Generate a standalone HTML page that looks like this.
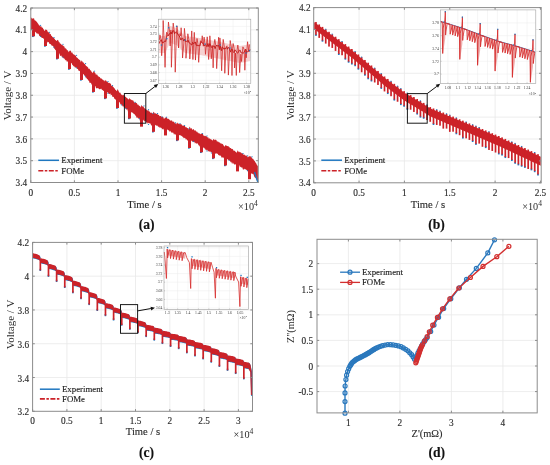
<!DOCTYPE html><html><head><meta charset="utf-8"><style>html,body{margin:0;padding:0;background:#fff;overflow:hidden}svg{display:block;will-change:transform;filter:blur(0.45px)}</style></head><body><svg width="550" height="465" viewBox="0 0 550 465" font-family='"Liberation Serif", serif'>
<rect width="550" height="465" fill="#fff"/>
<line x1="74.4" y1="8" x2="74.4" y2="182.5" stroke="#e9e9e9" stroke-width="0.8"/>
<line x1="118" y1="8" x2="118" y2="182.5" stroke="#e9e9e9" stroke-width="0.8"/>
<line x1="161.6" y1="8" x2="161.6" y2="182.5" stroke="#e9e9e9" stroke-width="0.8"/>
<line x1="205.2" y1="8" x2="205.2" y2="182.5" stroke="#e9e9e9" stroke-width="0.8"/>
<line x1="248.8" y1="8" x2="248.8" y2="182.5" stroke="#e9e9e9" stroke-width="0.8"/>
<line x1="30.8" y1="29.81" x2="258.3" y2="29.81" stroke="#e9e9e9" stroke-width="0.8"/>
<line x1="30.8" y1="51.63" x2="258.3" y2="51.63" stroke="#e9e9e9" stroke-width="0.8"/>
<line x1="30.8" y1="73.44" x2="258.3" y2="73.44" stroke="#e9e9e9" stroke-width="0.8"/>
<line x1="30.8" y1="95.25" x2="258.3" y2="95.25" stroke="#e9e9e9" stroke-width="0.8"/>
<line x1="30.8" y1="117.06" x2="258.3" y2="117.06" stroke="#e9e9e9" stroke-width="0.8"/>
<line x1="30.8" y1="138.88" x2="258.3" y2="138.88" stroke="#e9e9e9" stroke-width="0.8"/>
<line x1="30.8" y1="160.69" x2="258.3" y2="160.69" stroke="#e9e9e9" stroke-width="0.8"/>
<polygon points="30.9,17.03 31.4,18.1 31.9,18.55 32.4,18.3 32.9,19.06 33.4,18.61 33.9,17.86 34.4,19.8 34.9,20.4 35.4,20.51 35.9,20.88 36.4,21.47 36.9,22 37.4,22.83 37.9,23.44 38.4,24.04 38.9,25.27 39.4,25.46 39.9,25.71 40.4,26.81 40.9,26.09 41.4,26.53 41.9,27.77 42.4,27.38 42.9,27.88 43.4,29.17 43.9,29.61 44.4,30.85 44.9,30.91 45.4,29.25 45.9,29.74 46.4,29.86 46.9,30 47.4,30.81 47.9,32.13 48.4,31.86 48.9,32.65 49.4,32.59 49.9,34.43 50.4,33.87 50.9,34.57 51.4,36.07 51.9,35.99 52.4,37.05 52.9,37.24 53.4,37.92 53.9,37.41 54.4,38.69 54.9,39.19 55.4,40.33 55.9,40.08 56.4,41.01 56.9,40.71 57.4,39.8 57.9,40.25 58.4,40.53 58.9,42.16 59.4,42.02 59.9,43.54 60.4,43.42 60.9,43.93 61.4,44.47 61.9,45.02 62.4,44.67 62.9,45.63 63.4,45.79 63.9,46.54 64.4,46.54 64.9,48.43 65.4,47.71 65.9,48.93 66.4,48.83 66.9,50.23 67.4,50.38 67.9,50.02 68.4,51.65 68.9,52.3 69.4,50.73 69.9,50.68 70.4,50.49 70.9,51.06 71.4,52.72 71.9,52.61 72.4,52.5 72.9,54.12 73.4,54.22 73.9,54.6 74.4,54.77 74.9,55.32 75.4,55.53 75.9,55.7 76.4,57.53 76.9,57.37 77.4,58.03 77.9,58.22 78.4,59.45 78.9,58.84 79.4,59.94 79.9,59.94 80.4,60.63 80.9,62.53 81.4,60.58 81.9,60.76 82.4,61.46 82.9,62.57 83.4,62.27 83.9,63.21 84.4,63.91 84.9,63.93 85.4,64.74 85.9,65.68 86.4,66.46 86.9,65.79 87.4,67.59 87.9,66.65 88.4,68.4 88.9,69.04 89.4,68.51 89.9,69.51 90.4,70.69 90.9,69.95 91.4,71.48 91.9,72.29 92.4,72.39 92.9,73.28 93.4,71.03 93.9,71.53 94.4,72.34 94.9,72.59 95.4,73.3 95.9,74.67 96.4,74.48 96.9,74.51 97.4,74.81 97.9,76.31 98.4,75.91 98.9,77.17 99.4,76.84 99.9,77.26 100.4,78.27 100.9,78.43 101.4,78.58 101.9,78.74 102.4,79.87 102.9,79.54 103.4,80.76 103.9,79.82 104.4,80.83 104.9,81.4 105.4,80.53 105.9,79.84 106.4,81.16 106.9,81.38 107.4,81.88 107.9,82.17 108.4,83.15 108.9,82.56 109.4,83.1 109.9,83.22 110.4,83.41 110.9,84.1 111.4,85.66 111.9,85.97 112.4,85.29 112.9,86.66 113.4,87.04 113.9,87.8 114.4,88.48 114.9,88.49 115.4,90.12 115.9,89.9 116.4,90.74 116.9,91.33 117.4,89.18 117.9,89.57 118.4,90.7 118.9,91.84 119.4,92.5 119.9,92.95 120.4,92.54 120.9,94.35 121.4,94.55 121.9,95.05 122.4,94.86 122.9,95.87 123.4,94.85 123.9,95.21 124.4,95.57 124.9,96.32 125.4,96.69 125.9,96.97 126.4,97.95 126.9,97.49 127.4,98.75 127.9,98.44 128.4,99.64 128.9,98.97 129.4,97.81 129.9,99.19 130.4,98.93 130.9,99.74 131.4,99.87 131.9,100.18 132.4,99.88 132.9,100.87 133.4,100.4 133.9,101.99 134.4,102.62 134.9,102.83 135.4,101.92 135.9,102.76 136.4,103.11 136.9,103.16 137.4,104.36 137.9,105.01 138.4,104.61 138.9,105.87 139.4,106.14 139.9,105.45 140.4,106.87 140.9,107.46 141.4,104.78 141.9,105.79 142.4,106.3 142.9,106.66 143.4,106.25 143.9,107.56 144.4,107.93 144.9,108.64 145.4,109.02 145.9,108.67 146.4,109.71 146.9,110.35 147.4,110.8 147.9,110.04 148.4,110.23 148.9,111.58 149.4,111.19 149.9,112.06 150.4,112.98 150.9,112.38 151.4,112.49 151.9,113.13 152.4,113.76 152.9,113.18 153.4,111.94 153.9,111.85 154.4,113.01 154.9,113.59 155.4,113.17 155.9,113.47 156.4,114.05 156.9,113.84 157.4,114.19 157.9,114.6 158.4,115.09 158.9,114.77 159.4,116.12 159.9,116.13 160.4,115.96 160.9,115.89 161.4,117.26 161.9,116.53 162.4,116.82 162.9,117.1 163.4,117.3 163.9,118.9 164.4,118.16 164.9,118.5 165.4,117.62 165.9,117.57 166.4,117.18 166.9,117.87 167.4,118.89 167.9,118.38 168.4,119.21 168.9,118.53 169.4,119.84 169.9,120.22 170.4,120.6 170.9,120.66 171.4,120.47 171.9,120.28 172.4,121.31 172.9,121.99 173.4,121.38 173.9,121.8 174.4,122.53 174.9,123.17 175.4,123.71 175.9,122.78 176.4,123.17 176.9,124.46 177.4,122.51 177.9,122.93 178.4,123.65 178.9,123.84 179.4,123.97 179.9,124.15 180.4,123.82 180.9,124.49 181.4,124.05 181.9,125.25 182.4,125.53 182.9,125.75 183.4,125.59 183.9,125.77 184.4,126.12 184.9,125.78 185.4,127.36 185.9,127.16 186.4,127.19 186.9,127.73 187.4,128.29 187.9,128.03 188.4,129.03 188.9,129.47 189.4,126.93 189.9,126.84 190.4,128.15 190.9,128.83 191.4,127.79 191.9,129 192.4,129.49 192.9,129.96 193.4,128.99 193.9,129.25 194.4,130.99 194.9,129.91 195.4,130.32 195.9,131.26 196.4,131.37 196.9,132.16 197.4,131.61 197.9,133.15 198.4,132.42 198.9,133.69 199.4,132.96 199.9,133.99 200.4,133.67 200.9,134.51 201.4,132.89 201.9,133.93 202.4,133.89 202.9,133.64 203.4,135.52 203.9,135.74 204.4,136.17 204.9,135.48 205.4,136.11 205.9,136.2 206.4,136.32 206.9,136.45 207.4,137.48 207.9,137.15 208.4,137.52 208.9,138.89 209.4,138.57 209.9,138.37 210.4,139.42 210.9,139.06 211.4,139.75 211.9,139.64 212.4,140.29 212.9,140.75 213.4,138.88 213.9,138.94 214.4,139.85 214.9,140.26 215.4,139.43 215.9,139.64 216.4,139.88 216.9,141.55 217.4,141.77 217.9,140.92 218.4,142.45 218.9,141.57 219.4,142.39 219.9,142.72 220.4,143.74 220.9,142.68 221.4,143.46 221.9,144.26 222.4,143.75 222.9,144.37 223.4,145.08 223.9,146.09 224.4,146.24 224.9,146.69 225.4,144.93 225.9,145.19 226.4,145.76 226.9,145.83 227.4,146.27 227.9,145.92 228.4,146.04 228.9,147.33 229.4,146.73 229.9,148.27 230.4,148.09 230.9,147.99 231.4,149.3 231.9,148.38 232.4,149.29 232.9,148.95 233.4,150.68 233.9,150.39 234.4,151.09 234.9,150.58 235.4,151.75 235.9,151.92 236.4,152.16 236.9,152.99 237.4,150.49 237.9,150.8 238.4,151.57 238.9,152.14 239.4,151.62 239.9,152.44 240.4,151.98 240.9,152.82 241.4,153.45 241.9,152.6 242.4,153.95 242.9,153.09 243.4,154.88 243.9,154.38 244.4,154.57 244.9,155.35 245.4,155.32 245.9,155.94 246.4,155.19 246.9,156.23 247.4,156.51 247.9,157.39 248.4,156.25 248.9,157.34 249.4,156.06 249.9,156.36 250.4,156.03 250.9,157.29 251.4,157.13 251.9,157.52 252.4,159.04 252.9,158.38 253.4,159.23 253.9,160.13 254.4,160.79 254.9,161.34 255.4,162.54 255.9,162.79 256.4,163.84 256.9,164.95 257.4,165.53 257.9,166.27 257.9,180.66 257.4,179.76 256.9,180.63 256.4,178.11 255.9,178.35 255.4,177.82 254.9,177.4 254.4,176.89 253.9,175.45 253.4,174.37 252.9,173.62 252.4,174.22 251.9,173.65 251.4,173.47 250.9,173.28 250.4,171.42 249.9,171.48 249.4,171.06 248.9,173.16 248.4,171.23 247.9,170.81 247.4,171.56 246.9,170.24 246.4,169.73 245.9,169.8 245.4,169.11 244.9,169.38 244.4,168.62 243.9,169.39 243.4,169.6 242.9,169.42 242.4,167.68 241.9,166.89 241.4,167.98 240.9,166.66 240.4,166.81 239.9,167.49 239.4,165.38 238.9,165.15 238.4,165.33 237.9,164.71 237.4,164.11 236.9,166.11 236.4,164.73 235.9,164.31 235.4,164.61 234.9,164.27 234.4,164.66 233.9,164.1 233.4,163.59 232.9,162.28 232.4,163.75 231.9,163.48 231.4,162.36 230.9,161.37 230.4,162.43 229.9,160.49 229.4,160.25 228.9,159.82 228.4,161.02 227.9,158.91 227.4,159.83 226.9,158.4 226.4,158.94 225.9,158.64 225.4,157.79 224.9,158.67 224.4,158.98 223.9,158.31 223.4,157.23 222.9,158.11 222.4,157.09 221.9,157.68 221.4,157.23 220.9,155.72 220.4,155.55 219.9,156.11 219.4,155.16 218.9,154.93 218.4,155.37 217.9,154.12 217.4,153.78 216.9,153.42 216.4,153.14 215.9,154.01 215.4,153.47 214.9,152.98 214.4,153.09 213.9,151.43 213.4,151.31 212.9,153.02 212.4,152.65 211.9,152.5 211.4,152.27 210.9,152.57 210.4,151.53 209.9,151.32 209.4,152.11 208.9,150.7 208.4,151.57 207.9,151.29 207.4,150.03 206.9,149.39 206.4,150.56 205.9,150.09 205.4,149.5 204.9,148.36 204.4,148.77 203.9,147.06 203.4,148.34 202.9,147.31 202.4,147.03 201.9,146.29 201.4,145.69 200.9,146.91 200.4,145.51 199.9,146.2 199.4,146.42 198.9,144.26 198.4,145.67 197.9,144.06 197.4,143.19 196.9,142.9 196.4,144.25 195.9,142.44 195.4,143.31 194.9,143.61 194.4,141.67 193.9,142.11 193.4,142.32 192.9,140.94 192.4,142.26 191.9,141.34 191.4,140.75 190.9,139.9 190.4,139.87 189.9,140.58 189.4,139.47 188.9,141.83 188.4,141.5 187.9,140.24 187.4,140.63 186.9,139.63 186.4,139.04 185.9,139.74 185.4,138.59 184.9,137.7 184.4,137.89 183.9,138.2 183.4,137.44 182.9,137.36 182.4,136.39 181.9,136.27 181.4,135.64 180.9,135.8 180.4,135.22 179.9,134.97 179.4,135.35 178.9,135.36 178.4,134.65 177.9,133.77 177.4,134.9 176.9,134.31 176.4,135.57 175.9,134.36 175.4,135.08 174.9,133.42 174.4,134.41 173.9,134.6 173.4,133.07 172.9,132.37 172.4,132.69 171.9,133.03 171.4,132.31 170.9,131.96 170.4,131.05 169.9,130.58 169.4,132 168.9,130.83 168.4,130 167.9,130 167.4,129.15 166.9,130.61 166.4,130.21 165.9,128.58 165.4,128.47 164.9,129.3 164.4,130.68 163.9,130.2 163.4,128.51 162.9,129.15 162.4,129.14 161.9,128.58 161.4,127.97 160.9,127.5 160.4,127.5 159.9,127.89 159.4,127.25 158.9,126.16 158.4,127.25 157.9,126.59 157.4,125.42 156.9,125.82 156.4,125.78 155.9,124.78 155.4,125.26 154.9,125.54 154.4,124.89 153.9,124.99 153.4,124.4 152.9,125.07 152.4,125.49 151.9,125.13 151.4,125.65 150.9,124.65 150.4,123.46 149.9,123.37 149.4,123.62 148.9,122.69 148.4,123 147.9,124.02 147.4,122.71 146.9,122.46 146.4,122.87 145.9,121.5 145.4,120.83 144.9,121.93 144.4,120.87 143.9,120.89 143.4,119.58 142.9,121.03 142.4,120.74 141.9,119.92 141.4,118.59 140.9,121.18 140.4,120.24 139.9,120.75 139.4,118.78 138.9,118.23 138.4,118.64 137.9,118.32 137.4,117.27 136.9,118.12 136.4,117.3 135.9,115.8 135.4,115.85 134.9,114.59 134.4,114.36 133.9,114.1 133.4,113.55 132.9,112.81 132.4,112.82 131.9,112.33 131.4,112.2 130.9,112.57 130.4,111.34 129.9,110.51 129.4,110.96 128.9,110.86 128.4,111.42 127.9,111.47 127.4,109.15 126.9,109.42 126.4,109.59 125.9,109.19 125.4,108.04 124.9,108.32 124.4,107.65 123.9,107.45 123.4,106.07 122.9,106.75 122.4,105.49 121.9,105.38 121.4,104.3 120.9,104.44 120.4,104.21 119.9,102.68 119.4,101.74 118.9,102.7 118.4,101.55 117.9,99.96 117.4,100.37 116.9,100.41 116.4,101.25 115.9,99.32 115.4,99.91 114.9,98.48 114.4,99.26 113.9,97.36 113.4,96.69 112.9,97.08 112.4,96.75 111.9,94.97 111.4,94.77 110.9,95.44 110.4,93.47 109.9,93.86 109.4,94.36 108.9,93.6 108.4,93.63 107.9,91.98 107.4,92.88 106.9,91.51 106.4,90.81 105.9,90.17 105.4,89.66 104.9,90.54 104.4,90.65 103.9,91.08 103.4,90.94 102.9,89.87 102.4,90.21 101.9,90.06 101.4,88.44 100.9,89.22 100.4,88.66 99.9,88.99 99.4,89.47 98.9,88.5 98.4,88.5 97.9,88.27 97.4,87.95 96.9,88.5 96.4,88.14 95.9,87.76 95.4,85.95 94.9,86.24 94.4,85.25 93.9,86.22 93.4,85.77 92.9,85.11 92.4,85.65 91.9,84.72 91.4,84.27 90.9,82.46 90.4,83.12 89.9,82.99 89.4,82.47 88.9,80.36 88.4,81.09 87.9,79.71 87.4,79.11 86.9,78.95 86.4,77.5 85.9,78.14 85.4,76.51 84.9,75.72 84.4,75.73 83.9,74.26 83.4,74.6 82.9,73.4 82.4,72.86 81.9,71.96 81.4,73.25 80.9,72.72 80.4,71.92 79.9,71.26 79.4,70.68 78.9,71.11 78.4,70.13 77.9,68.95 77.4,69.06 76.9,68.41 76.4,67.61 75.9,67.35 75.4,67.72 74.9,67.32 74.4,66.59 73.9,66.22 73.4,66.32 72.9,65.01 72.4,65.13 71.9,63.8 71.4,62.99 70.9,62.67 70.4,63.26 69.9,62.95 69.4,61.81 68.9,62.07 68.4,62.01 67.9,61.67 67.4,61.2 66.9,62.1 66.4,60.15 65.9,60.57 65.4,59.92 64.9,59.38 64.4,58.51 63.9,58.83 63.4,57.87 62.9,57.96 62.4,56.73 61.9,57.17 61.4,55.49 60.9,55.82 60.4,56.12 59.9,55.46 59.4,53.36 58.9,54.04 58.4,53.17 57.9,51.65 57.4,50.67 56.9,52.02 56.4,50.93 55.9,50.36 55.4,50.23 54.9,48.9 54.4,48.86 53.9,48.12 53.4,46.78 52.9,45.87 52.4,46 51.9,45.17 51.4,45.81 50.9,43.76 50.4,44.52 49.9,43.67 49.4,43.99 48.9,42.29 48.4,42.04 47.9,42.6 47.4,42.25 46.9,41.06 46.4,40.17 45.9,39.86 45.4,39.2 44.9,41.43 44.4,39.83 43.9,39.09 43.4,38.62 42.9,37.94 42.4,37.95 41.9,37.81 41.4,37.53 40.9,37.04 40.4,36.36 39.9,35.94 39.4,36.03 38.9,34.63 38.4,33.45 37.9,34.34 37.4,33.35 36.9,33.56 36.4,33.23 35.9,31.9 35.4,32.38 34.9,30.99 34.4,30.92 33.9,31.01 33.4,30.02 32.9,30.84 32.4,31.16 31.9,30.05 31.4,29.97 30.9,29.26" fill="#cc2228" />
<rect x="39.9" y="24.91" width="1.2" height="0.9" fill="#1f77c0"/>
<rect x="39.9" y="35.94" width="1.2" height="0.9" fill="#1f77c0"/>
<rect x="48.9" y="31.85" width="1.2" height="0.9" fill="#1f77c0"/>
<rect x="53.4" y="37.12" width="1.2" height="0.9" fill="#1f77c0"/>
<rect x="53.4" y="46.78" width="1.2" height="0.9" fill="#1f77c0"/>
<rect x="57.9" y="51.65" width="1.2" height="0.9" fill="#1f77c0"/>
<rect x="62.4" y="43.87" width="1.2" height="0.9" fill="#1f77c0"/>
<rect x="62.4" y="56.73" width="1.2" height="0.9" fill="#1f77c0"/>
<rect x="75.9" y="54.9" width="1.2" height="0.9" fill="#1f77c0"/>
<rect x="75.9" y="67.35" width="1.2" height="0.9" fill="#1f77c0"/>
<rect x="84.9" y="63.13" width="1.2" height="0.9" fill="#1f77c0"/>
<rect x="84.9" y="75.72" width="1.2" height="0.9" fill="#1f77c0"/>
<rect x="93.9" y="70.73" width="1.2" height="0.9" fill="#1f77c0"/>
<rect x="107.4" y="81.08" width="1.2" height="0.9" fill="#1f77c0"/>
<rect x="107.4" y="92.88" width="1.2" height="0.9" fill="#1f77c0"/>
<rect x="111.9" y="85.17" width="1.2" height="0.9" fill="#1f77c0"/>
<rect x="120.9" y="104.44" width="1.2" height="0.9" fill="#1f77c0"/>
<rect x="125.4" y="108.04" width="1.2" height="0.9" fill="#1f77c0"/>
<rect x="129.9" y="110.51" width="1.2" height="0.9" fill="#1f77c0"/>
<rect x="134.4" y="101.82" width="1.2" height="0.9" fill="#1f77c0"/>
<rect x="138.9" y="118.23" width="1.2" height="0.9" fill="#1f77c0"/>
<rect x="143.4" y="105.45" width="1.2" height="0.9" fill="#1f77c0"/>
<rect x="147.9" y="109.24" width="1.2" height="0.9" fill="#1f77c0"/>
<rect x="147.9" y="124.02" width="1.2" height="0.9" fill="#1f77c0"/>
<rect x="152.4" y="112.96" width="1.2" height="0.9" fill="#1f77c0"/>
<rect x="156.9" y="113.04" width="1.2" height="0.9" fill="#1f77c0"/>
<rect x="161.4" y="116.46" width="1.2" height="0.9" fill="#1f77c0"/>
<rect x="165.9" y="116.77" width="1.2" height="0.9" fill="#1f77c0"/>
<rect x="174.9" y="122.37" width="1.2" height="0.9" fill="#1f77c0"/>
<rect x="179.4" y="123.17" width="1.2" height="0.9" fill="#1f77c0"/>
<rect x="183.9" y="124.97" width="1.2" height="0.9" fill="#1f77c0"/>
<rect x="188.4" y="128.23" width="1.2" height="0.9" fill="#1f77c0"/>
<rect x="192.9" y="140.94" width="1.2" height="0.9" fill="#1f77c0"/>
<rect x="201.9" y="133.13" width="1.2" height="0.9" fill="#1f77c0"/>
<rect x="201.9" y="146.29" width="1.2" height="0.9" fill="#1f77c0"/>
<rect x="206.4" y="135.52" width="1.2" height="0.9" fill="#1f77c0"/>
<rect x="206.4" y="150.56" width="1.2" height="0.9" fill="#1f77c0"/>
<rect x="210.9" y="152.57" width="1.2" height="0.9" fill="#1f77c0"/>
<rect x="224.4" y="158.98" width="1.2" height="0.9" fill="#1f77c0"/>
<rect x="228.9" y="159.82" width="1.2" height="0.9" fill="#1f77c0"/>
<rect x="242.4" y="153.15" width="1.2" height="0.9" fill="#1f77c0"/>
<rect x="246.9" y="155.43" width="1.2" height="0.9" fill="#1f77c0"/>
<rect x="246.9" y="170.24" width="1.2" height="0.9" fill="#1f77c0"/>
<rect x="251.4" y="156.33" width="1.2" height="0.9" fill="#1f77c0"/>
<rect x="255.9" y="178.35" width="1.2" height="0.9" fill="#1f77c0"/>
<rect x="32" y="34.35" width="1.8" height="2.7" fill="#1f77c0"/>
<rect x="32" y="22.07" width="3.0" height="14.28" fill="#cc2228"/>
<rect x="44" y="44.01" width="1.8" height="2.7" fill="#1f77c0"/>
<rect x="44" y="33.26" width="3.0" height="12.75" fill="#cc2228"/>
<rect x="56" y="56.74" width="1.8" height="2.7" fill="#1f77c0"/>
<rect x="56" y="44.02" width="3.0" height="14.72" fill="#cc2228"/>
<rect x="68" y="67.07" width="1.8" height="2.7" fill="#1f77c0"/>
<rect x="68" y="54.11" width="3.0" height="14.96" fill="#cc2228"/>
<rect x="80" y="77.93" width="1.8" height="2.7" fill="#1f77c0"/>
<rect x="80" y="64.38" width="3.0" height="15.55" fill="#cc2228"/>
<rect x="92" y="89.93" width="1.8" height="2.7" fill="#1f77c0"/>
<rect x="92" y="75.51" width="3.0" height="16.42" fill="#cc2228"/>
<rect x="104" y="96.43" width="1.8" height="2.7" fill="#1f77c0"/>
<rect x="104" y="83.83" width="3.0" height="14.61" fill="#cc2228"/>
<rect x="116" y="106.04" width="1.8" height="2.7" fill="#1f77c0"/>
<rect x="116" y="93.74" width="3.0" height="14.3" fill="#cc2228"/>
<rect x="128" y="116.53" width="1.8" height="2.7" fill="#1f77c0"/>
<rect x="128" y="102.12" width="3.0" height="16.41" fill="#cc2228"/>
<rect x="140" y="109.28" width="3.0" height="17.4" fill="#cc2228"/>
<rect x="152" y="129.8" width="1.8" height="2.7" fill="#1f77c0"/>
<rect x="152" y="116.12" width="3.0" height="15.68" fill="#cc2228"/>
<rect x="164" y="121.08" width="3.0" height="14.37" fill="#cc2228"/>
<rect x="176" y="138.43" width="1.8" height="2.7" fill="#1f77c0"/>
<rect x="176" y="126.27" width="3.0" height="14.16" fill="#cc2228"/>
<rect x="188" y="145.97" width="1.8" height="2.7" fill="#1f77c0"/>
<rect x="188" y="131.11" width="3.0" height="16.87" fill="#cc2228"/>
<rect x="200" y="150.32" width="1.8" height="2.7" fill="#1f77c0"/>
<rect x="200" y="137.2" width="3.0" height="15.12" fill="#cc2228"/>
<rect x="212" y="156.41" width="1.8" height="2.7" fill="#1f77c0"/>
<rect x="212" y="142.82" width="3.0" height="15.59" fill="#cc2228"/>
<rect x="224" y="163.5" width="1.8" height="2.7" fill="#1f77c0"/>
<rect x="224" y="148.51" width="3.0" height="16.98" fill="#cc2228"/>
<rect x="236" y="154.6" width="3.0" height="16.8" fill="#cc2228"/>
<rect x="248" y="159.87" width="3.0" height="19.37" fill="#cc2228"/>
<polyline points="254.5,172 257.8,182" fill="none" stroke="#1f77c0" stroke-width="1.4" stroke-linejoin="round" />
<rect x="30.8" y="8" width="227.5" height="174.5" fill="none" stroke="#8c8c8c" stroke-width="1.0"/>
<line x1="30.8" y1="182.5" x2="30.8" y2="180.3" stroke="#8c8c8c" stroke-width="1.0"/>
<line x1="30.8" y1="8" x2="30.8" y2="10.2" stroke="#8c8c8c" stroke-width="1.0"/>
<text x="30.8" y="196.2" font-size="9.3" text-anchor="middle" fill="#2b2b2b" stroke="#2b2b2b" stroke-width="0.14" >0</text>
<line x1="74.4" y1="182.5" x2="74.4" y2="180.3" stroke="#8c8c8c" stroke-width="1.0"/>
<line x1="74.4" y1="8" x2="74.4" y2="10.2" stroke="#8c8c8c" stroke-width="1.0"/>
<text x="74.4" y="196.2" font-size="9.3" text-anchor="middle" fill="#2b2b2b" stroke="#2b2b2b" stroke-width="0.14" >0.5</text>
<line x1="118" y1="182.5" x2="118" y2="180.3" stroke="#8c8c8c" stroke-width="1.0"/>
<line x1="118" y1="8" x2="118" y2="10.2" stroke="#8c8c8c" stroke-width="1.0"/>
<text x="118" y="196.2" font-size="9.3" text-anchor="middle" fill="#2b2b2b" stroke="#2b2b2b" stroke-width="0.14" >1</text>
<line x1="161.6" y1="182.5" x2="161.6" y2="180.3" stroke="#8c8c8c" stroke-width="1.0"/>
<line x1="161.6" y1="8" x2="161.6" y2="10.2" stroke="#8c8c8c" stroke-width="1.0"/>
<text x="161.6" y="196.2" font-size="9.3" text-anchor="middle" fill="#2b2b2b" stroke="#2b2b2b" stroke-width="0.14" >1.5</text>
<line x1="205.2" y1="182.5" x2="205.2" y2="180.3" stroke="#8c8c8c" stroke-width="1.0"/>
<line x1="205.2" y1="8" x2="205.2" y2="10.2" stroke="#8c8c8c" stroke-width="1.0"/>
<text x="205.2" y="196.2" font-size="9.3" text-anchor="middle" fill="#2b2b2b" stroke="#2b2b2b" stroke-width="0.14" >2</text>
<line x1="248.8" y1="182.5" x2="248.8" y2="180.3" stroke="#8c8c8c" stroke-width="1.0"/>
<line x1="248.8" y1="8" x2="248.8" y2="10.2" stroke="#8c8c8c" stroke-width="1.0"/>
<text x="248.8" y="196.2" font-size="9.3" text-anchor="middle" fill="#2b2b2b" stroke="#2b2b2b" stroke-width="0.14" >2.5</text>
<line x1="30.8" y1="8" x2="33" y2="8" stroke="#8c8c8c" stroke-width="1.0"/>
<line x1="258.3" y1="8" x2="256.1" y2="8" stroke="#8c8c8c" stroke-width="1.0"/>
<text x="27.2" y="11.67" font-size="9.3" text-anchor="end" fill="#2b2b2b" stroke="#2b2b2b" stroke-width="0.14" >4.2</text>
<line x1="30.8" y1="29.81" x2="33" y2="29.81" stroke="#8c8c8c" stroke-width="1.0"/>
<line x1="258.3" y1="29.81" x2="256.1" y2="29.81" stroke="#8c8c8c" stroke-width="1.0"/>
<text x="27.2" y="33.48" font-size="9.3" text-anchor="end" fill="#2b2b2b" stroke="#2b2b2b" stroke-width="0.14" >4.1</text>
<line x1="30.8" y1="51.63" x2="33" y2="51.63" stroke="#8c8c8c" stroke-width="1.0"/>
<line x1="258.3" y1="51.63" x2="256.1" y2="51.63" stroke="#8c8c8c" stroke-width="1.0"/>
<text x="27.2" y="55.29" font-size="9.3" text-anchor="end" fill="#2b2b2b" stroke="#2b2b2b" stroke-width="0.14" >4</text>
<line x1="30.8" y1="73.44" x2="33" y2="73.44" stroke="#8c8c8c" stroke-width="1.0"/>
<line x1="258.3" y1="73.44" x2="256.1" y2="73.44" stroke="#8c8c8c" stroke-width="1.0"/>
<text x="27.2" y="77.11" font-size="9.3" text-anchor="end" fill="#2b2b2b" stroke="#2b2b2b" stroke-width="0.14" >3.9</text>
<line x1="30.8" y1="95.25" x2="33" y2="95.25" stroke="#8c8c8c" stroke-width="1.0"/>
<line x1="258.3" y1="95.25" x2="256.1" y2="95.25" stroke="#8c8c8c" stroke-width="1.0"/>
<text x="27.2" y="98.92" font-size="9.3" text-anchor="end" fill="#2b2b2b" stroke="#2b2b2b" stroke-width="0.14" >3.8</text>
<line x1="30.8" y1="117.06" x2="33" y2="117.06" stroke="#8c8c8c" stroke-width="1.0"/>
<line x1="258.3" y1="117.06" x2="256.1" y2="117.06" stroke="#8c8c8c" stroke-width="1.0"/>
<text x="27.2" y="120.73" font-size="9.3" text-anchor="end" fill="#2b2b2b" stroke="#2b2b2b" stroke-width="0.14" >3.7</text>
<line x1="30.8" y1="138.88" x2="33" y2="138.88" stroke="#8c8c8c" stroke-width="1.0"/>
<line x1="258.3" y1="138.88" x2="256.1" y2="138.88" stroke="#8c8c8c" stroke-width="1.0"/>
<text x="27.2" y="142.54" font-size="9.3" text-anchor="end" fill="#2b2b2b" stroke="#2b2b2b" stroke-width="0.14" >3.6</text>
<line x1="30.8" y1="160.69" x2="33" y2="160.69" stroke="#8c8c8c" stroke-width="1.0"/>
<line x1="258.3" y1="160.69" x2="256.1" y2="160.69" stroke="#8c8c8c" stroke-width="1.0"/>
<text x="27.2" y="164.36" font-size="9.3" text-anchor="end" fill="#2b2b2b" stroke="#2b2b2b" stroke-width="0.14" >3.5</text>
<line x1="30.8" y1="182.5" x2="33" y2="182.5" stroke="#8c8c8c" stroke-width="1.0"/>
<line x1="258.3" y1="182.5" x2="256.1" y2="182.5" stroke="#8c8c8c" stroke-width="1.0"/>
<text x="27.2" y="186.17" font-size="9.3" text-anchor="end" fill="#2b2b2b" stroke="#2b2b2b" stroke-width="0.14" >3.4</text>
<line x1="38.3" y1="160.3" x2="59" y2="160.3" stroke="#1f77c0" stroke-width="1.5"/>
<line x1="38.3" y1="170.8" x2="59" y2="170.8" stroke="#cc2228" stroke-width="1.6" stroke-dasharray="5 1.5 2.5 1.5"/>
<text x="61.3" y="163.2" font-size="8.8" text-anchor="start" fill="#222" stroke="#222" stroke-width="0.14" >Experiment</text>
<text x="61.3" y="173.7" font-size="8.8" text-anchor="start" fill="#222" stroke="#222" stroke-width="0.14" >FOMe</text>
<text x="257.8" y="210.4" font-size="10.2" text-anchor="end" fill="#2b2b2b">×10<tspan font-size="7.55" dy="-4.59">4</tspan></text>
<text x="144.5" y="207.6" font-size="10.6" text-anchor="middle" fill="#2b2b2b" stroke="#2b2b2b" stroke-width="0.14" >Time / s</text>
<text transform="translate(10.7,95.5) rotate(-90)" x="0" y="0" font-size="11.0" text-anchor="middle" fill="#2b2b2b">Voltage / V</text>
<text x="146.6" y="229.3" font-size="13.6" text-anchor="middle" fill="#111" stroke="#111" stroke-width="0.14" font-weight="bold">(a)</text>
<line x1="359.05" y1="7.6" x2="359.05" y2="182.8" stroke="#e9e9e9" stroke-width="0.8"/>
<line x1="404.4" y1="7.6" x2="404.4" y2="182.8" stroke="#e9e9e9" stroke-width="0.8"/>
<line x1="449.75" y1="7.6" x2="449.75" y2="182.8" stroke="#e9e9e9" stroke-width="0.8"/>
<line x1="495.1" y1="7.6" x2="495.1" y2="182.8" stroke="#e9e9e9" stroke-width="0.8"/>
<line x1="313.7" y1="29.5" x2="541.2" y2="29.5" stroke="#e9e9e9" stroke-width="0.8"/>
<line x1="313.7" y1="51.4" x2="541.2" y2="51.4" stroke="#e9e9e9" stroke-width="0.8"/>
<line x1="313.7" y1="73.3" x2="541.2" y2="73.3" stroke="#e9e9e9" stroke-width="0.8"/>
<line x1="313.7" y1="95.2" x2="541.2" y2="95.2" stroke="#e9e9e9" stroke-width="0.8"/>
<line x1="313.7" y1="117.1" x2="541.2" y2="117.1" stroke="#e9e9e9" stroke-width="0.8"/>
<line x1="313.7" y1="139" x2="541.2" y2="139" stroke="#e9e9e9" stroke-width="0.8"/>
<line x1="313.7" y1="160.9" x2="541.2" y2="160.9" stroke="#e9e9e9" stroke-width="0.8"/>
<polygon points="314.2,22 314.7,22.38 315.2,22.75 315.7,23.13 316.2,23.5 316.7,23.88 317.2,24.26 317.7,24.63 318.2,25.01 318.7,25.38 319.2,25.76 319.7,26.14 320.2,26.51 320.7,26.89 321.2,27.26 321.7,27.64 322.2,28.02 322.7,28.39 323.2,28.77 323.7,29.14 324.2,29.52 324.7,29.9 325.2,30.27 325.7,30.65 326.2,31.02 326.7,31.4 327.2,31.78 327.7,32.15 328.2,32.53 328.7,32.9 329.2,33.28 329.7,33.66 330.2,34.03 330.7,34.41 331.2,34.78 331.7,35.16 332.2,35.54 332.7,35.91 333.2,36.29 333.7,36.66 334.2,37.04 334.7,37.42 335.2,37.79 335.7,38.17 336.2,38.54 336.7,38.92 337.2,39.3 337.7,39.67 338.2,40.05 338.7,40.42 339.2,40.8 339.7,41.18 340.2,41.55 340.7,41.93 341.2,42.3 341.7,42.68 342.2,43.06 342.7,43.43 343.2,43.81 343.7,44.18 344.2,44.56 344.7,44.94 345.2,45.31 345.7,45.69 346.2,46.06 346.7,46.44 347.2,46.82 347.7,47.19 348.2,47.57 348.7,47.94 349.2,48.32 349.7,48.7 350.2,49.07 350.7,49.45 351.2,49.82 351.7,50.2 352.2,50.58 352.7,51.01 353.2,51.43 353.7,51.85 354.2,52.27 354.7,52.69 355.2,53.11 355.7,53.53 356.2,53.95 356.7,54.37 357.2,54.79 357.7,55.21 358.2,55.64 358.7,56.06 359.2,56.48 359.7,56.9 360.2,57.32 360.7,57.74 361.2,58.16 361.7,58.58 362.2,59 362.7,59.42 363.2,59.85 363.7,60.27 364.2,60.69 364.7,61.11 365.2,61.53 365.7,61.95 366.2,62.37 366.7,62.79 367.2,63.21 367.7,63.63 368.2,64.06 368.7,64.48 369.2,64.9 369.7,65.32 370.2,65.74 370.7,66.16 371.2,66.58 371.7,67 372.2,67.42 372.7,67.84 373.2,68.27 373.7,68.69 374.2,69.11 374.7,69.53 375.2,69.95 375.7,70.37 376.2,70.79 376.7,71.21 377.2,71.63 377.7,72.05 378.2,72.47 378.7,72.9 379.2,73.32 379.7,73.74 380.2,74.16 380.7,74.58 381.2,75 381.7,75.42 382.2,75.84 382.7,76.26 383.2,76.68 383.7,77.11 384.2,77.53 384.7,77.95 385.2,78.35 385.7,78.72 386.2,79.1 386.7,79.47 387.2,79.84 387.7,80.22 388.2,80.59 388.7,80.97 389.2,81.34 389.7,81.71 390.2,82.09 390.7,82.46 391.2,82.83 391.7,83.21 392.2,83.58 392.7,83.96 393.2,84.33 393.7,84.7 394.2,85.08 394.7,85.45 395.2,85.82 395.7,86.2 396.2,86.57 396.7,86.94 397.2,87.32 397.7,87.69 398.2,88.07 398.7,88.44 399.2,88.81 399.7,89.19 400.2,89.56 400.7,89.93 401.2,90.31 401.7,90.68 402.2,91.06 402.7,91.43 403.2,91.8 403.7,92.18 404.2,92.55 404.7,92.88 405.2,93.18 405.7,93.47 406.2,93.77 406.7,94.07 407.2,94.37 407.7,94.67 408.2,94.96 408.7,95.26 409.2,95.56 409.7,95.86 410.2,96.16 410.7,96.45 411.2,96.75 411.7,97.05 412.2,97.35 412.7,97.65 413.2,97.94 413.7,98.24 414.2,98.54 414.7,98.84 415.2,99.14 415.7,99.43 416.2,99.73 416.7,100.03 417.2,100.33 417.7,100.63 418.2,100.92 418.7,101.22 419.2,101.52 419.7,101.82 420.2,102.12 420.7,102.41 421.2,102.71 421.7,103.01 422.2,103.31 422.7,103.61 423.2,103.9 423.7,104.2 424.2,104.5 424.7,104.83 425.2,105.15 425.7,105.47 426.2,105.8 426.7,106.12 427.2,106.45 427.7,106.78 428.2,107.1 428.7,107.43 429.2,107.75 429.7,108.08 430.2,108.4 430.7,108.61 431.2,108.82 431.7,109.02 432.2,109.23 432.7,109.44 433.2,109.65 433.7,109.86 434.2,110.06 434.7,110.27 435.2,110.48 435.7,110.69 436.2,110.9 436.7,111.1 437.2,111.31 437.7,111.52 438.2,111.73 438.7,111.94 439.2,112.14 439.7,112.35 440.2,112.56 440.7,112.77 441.2,112.98 441.7,113.18 442.2,113.39 442.7,113.6 443.2,113.81 443.7,114.02 444.2,114.22 444.7,114.43 445.2,114.64 445.7,114.85 446.2,115.06 446.7,115.26 447.2,115.47 447.7,115.68 448.2,115.89 448.7,116.1 449.2,116.3 449.7,116.51 450.2,116.72 450.7,116.93 451.2,117.14 451.7,117.34 452.2,117.55 452.7,117.76 453.2,117.97 453.7,118.18 454.2,118.38 454.7,118.59 455.2,118.8 455.7,119.01 456.2,119.22 456.7,119.42 457.2,119.63 457.7,119.84 458.2,120.05 458.7,120.26 459.2,120.46 459.7,120.67 460.2,120.88 460.7,121.09 461.2,121.3 461.7,121.5 462.2,121.71 462.7,121.92 463.2,122.13 463.7,122.34 464.2,122.54 464.7,122.75 465.2,122.96 465.7,123.17 466.2,123.38 466.7,123.58 467.2,123.79 467.7,124 468.2,124.21 468.7,124.42 469.2,124.63 469.7,124.84 470.2,125.06 470.7,125.27 471.2,125.48 471.7,125.7 472.2,125.91 472.7,126.13 473.2,126.34 473.7,126.56 474.2,126.77 474.7,126.98 475.2,127.2 475.7,127.41 476.2,127.63 476.7,127.84 477.2,128.05 477.7,128.27 478.2,128.48 478.7,128.7 479.2,128.91 479.7,129.12 480.2,129.34 480.7,129.55 481.2,129.77 481.7,129.98 482.2,130.19 482.7,130.41 483.2,130.62 483.7,130.84 484.2,131.05 484.7,131.26 485.2,131.48 485.7,131.69 486.2,131.91 486.7,132.12 487.2,132.33 487.7,132.55 488.2,132.76 488.7,132.98 489.2,133.19 489.7,133.41 490.2,133.62 490.7,133.83 491.2,134.05 491.7,134.26 492.2,134.48 492.7,134.69 493.2,134.9 493.7,135.12 494.2,135.33 494.7,135.55 495.2,135.76 495.7,135.97 496.2,136.19 496.7,136.4 497.2,136.62 497.7,136.83 498.2,137.04 498.7,137.26 499.2,137.47 499.7,137.69 500.2,137.9 500.7,138.11 501.2,138.33 501.7,138.55 502.2,138.78 502.7,139.01 503.2,139.25 503.7,139.48 504.2,139.71 504.7,139.95 505.2,140.18 505.7,140.41 506.2,140.65 506.7,140.88 507.2,141.11 507.7,141.35 508.2,141.58 508.7,141.81 509.2,142.05 509.7,142.28 510.2,142.51 510.7,142.74 511.2,142.98 511.7,143.21 512.2,143.44 512.7,143.68 513.2,143.91 513.7,144.14 514.2,144.38 514.7,144.61 515.2,144.84 515.7,145.08 516.2,145.31 516.7,145.54 517.2,145.78 517.7,146.01 518.2,146.24 518.7,146.48 519.2,146.71 519.7,146.94 520.2,147.18 520.7,147.41 521.2,147.64 521.7,147.88 522.2,148.11 522.7,148.34 523.2,148.58 523.7,148.81 524.2,149.04 524.7,149.28 525.2,149.51 525.7,149.74 526.2,149.98 526.7,150.21 527.2,150.44 527.7,150.68 528.2,150.91 528.7,151.14 529.2,151.37 529.7,151.61 530.2,151.84 530.7,152.07 531.2,152.31 531.7,152.54 532.2,152.77 532.7,153.01 533.2,153.24 533.7,153.47 534.2,153.71 534.7,153.94 535.2,154.17 535.7,154.41 536.2,154.64 536.7,154.87 537.2,155.11 537.7,155.35 538.2,155.6 538.7,155.85 539.2,156.1 539.7,156.35 540.2,156.6 540.7,156.85 540.7,165.85 540.2,165.59 539.7,165.34 539.2,165.09 538.7,164.83 538.2,164.58 537.7,164.33 537.2,164.08 536.7,163.84 536.2,163.61 535.7,163.37 535.2,163.13 534.7,162.9 534.2,162.66 533.7,162.42 533.2,162.19 532.7,161.95 532.2,161.71 531.7,161.48 531.2,161.24 530.7,161 530.2,160.77 529.7,160.53 529.2,160.29 528.7,160.06 528.2,159.82 527.7,159.58 527.2,159.34 526.7,159.11 526.2,158.87 525.7,158.63 525.2,158.4 524.7,158.16 524.2,157.92 523.7,157.69 523.2,157.45 522.7,157.21 522.2,156.98 521.7,156.74 521.2,156.5 520.7,156.27 520.2,156.03 519.7,155.79 519.2,155.56 518.7,155.32 518.2,155.08 517.7,154.85 517.2,154.61 516.7,154.37 516.2,154.14 515.7,153.9 515.2,153.66 514.7,153.43 514.2,153.19 513.7,152.95 513.2,152.72 512.7,152.48 512.2,152.24 511.7,152.01 511.2,151.77 510.7,151.53 510.2,151.29 509.7,151.06 509.2,150.82 508.7,150.58 508.2,150.35 507.7,150.11 507.2,149.87 506.7,149.64 506.2,149.4 505.7,149.16 505.2,148.93 504.7,148.69 504.2,148.45 503.7,148.22 503.2,147.98 502.7,147.74 502.2,147.51 501.7,147.27 501.2,147.05 500.7,146.83 500.2,146.61 499.7,146.4 499.2,146.18 498.7,145.96 498.2,145.74 497.7,145.53 497.2,145.31 496.7,145.09 496.2,144.87 495.7,144.65 495.2,144.44 494.7,144.22 494.2,144 493.7,143.78 493.2,143.57 492.7,143.35 492.2,143.13 491.7,142.91 491.2,142.7 490.7,142.48 490.2,142.26 489.7,142.04 489.2,141.83 488.7,141.61 488.2,141.39 487.7,141.17 487.2,140.96 486.7,140.74 486.2,140.52 485.7,140.3 485.2,140.09 484.7,139.87 484.2,139.65 483.7,139.43 483.2,139.22 482.7,139 482.2,138.78 481.7,138.56 481.2,138.34 480.7,138.13 480.2,137.91 479.7,137.69 479.2,137.47 478.7,137.26 478.2,137.04 477.7,136.82 477.2,136.6 476.7,136.39 476.2,136.17 475.7,135.95 475.2,135.73 474.7,135.52 474.2,135.3 473.7,135.08 473.2,134.86 472.7,134.65 472.2,134.43 471.7,134.21 471.2,133.99 470.7,133.78 470.2,133.56 469.7,133.34 469.2,133.12 468.7,132.9 468.2,132.69 467.7,132.47 467.2,132.26 466.7,132.04 466.2,131.83 465.7,131.61 465.2,131.4 464.7,131.19 464.2,130.97 463.7,130.76 463.2,130.54 462.7,130.33 462.2,130.12 461.7,129.9 461.2,129.69 460.7,129.47 460.2,129.26 459.7,129.04 459.2,128.83 458.7,128.62 458.2,128.4 457.7,128.19 457.2,127.97 456.7,127.76 456.2,127.54 455.7,127.33 455.2,127.12 454.7,126.9 454.2,126.69 453.7,126.47 453.2,126.26 452.7,126.04 452.2,125.83 451.7,125.62 451.2,125.4 450.7,125.19 450.2,124.97 449.7,124.76 449.2,124.54 448.7,124.33 448.2,124.12 447.7,123.9 447.2,123.69 446.7,123.47 446.2,123.26 445.7,123.04 445.2,122.83 444.7,122.62 444.2,122.4 443.7,122.19 443.2,121.97 442.7,121.76 442.2,121.54 441.7,121.33 441.2,121.12 440.7,120.9 440.2,120.69 439.7,120.47 439.2,120.26 438.7,120.04 438.2,119.83 437.7,119.62 437.2,119.4 436.7,119.19 436.2,118.97 435.7,118.76 435.2,118.55 434.7,118.33 434.2,118.12 433.7,117.9 433.2,117.69 432.7,117.47 432.2,117.26 431.7,117.05 431.2,116.83 430.7,116.62 430.2,116.4 429.7,116.07 429.2,115.75 428.7,115.42 428.2,115.09 427.7,114.76 427.2,114.44 426.7,114.11 426.2,113.78 425.7,113.46 425.2,113.13 424.7,112.8 424.2,112.47 423.7,112.17 423.2,111.87 422.7,111.57 422.2,111.27 421.7,110.97 421.2,110.67 420.7,110.37 420.2,110.07 419.7,109.77 419.2,109.47 418.7,109.17 418.2,108.87 417.7,108.57 417.2,108.27 416.7,107.97 416.2,107.67 415.7,107.37 415.2,107.07 414.7,106.77 414.2,106.47 413.7,106.17 413.2,105.87 412.7,105.57 412.2,105.27 411.7,104.97 411.2,104.67 410.7,104.37 410.2,104.07 409.7,103.77 409.2,103.47 408.7,103.17 408.2,102.87 407.7,102.57 407.2,102.27 406.7,101.97 406.2,101.67 405.7,101.37 405.2,101.07 404.7,100.77 404.2,100.44 403.7,100.06 403.2,99.68 402.7,99.31 402.2,98.93 401.7,98.56 401.2,98.18 400.7,97.8 400.2,97.43 399.7,97.05 399.2,96.68 398.7,96.3 398.2,95.92 397.7,95.55 397.2,95.17 396.7,94.8 396.2,94.42 395.7,94.04 395.2,93.67 394.7,93.29 394.2,92.92 393.7,92.54 393.2,92.17 392.7,91.79 392.2,91.41 391.7,91.04 391.2,90.66 390.7,90.29 390.2,89.91 389.7,89.53 389.2,89.16 388.7,88.78 388.2,88.41 387.7,88.03 387.2,87.65 386.7,87.28 386.2,86.9 385.7,86.53 385.2,86.15 384.7,85.74 384.2,85.32 383.7,84.89 383.2,84.46 382.7,84.04 382.2,83.61 381.7,83.18 381.2,82.76 380.7,82.33 380.2,81.9 379.7,81.48 379.2,81.05 378.7,80.62 378.2,80.2 377.7,79.77 377.2,79.34 376.7,78.92 376.2,78.49 375.7,78.06 375.2,77.64 374.7,77.21 374.2,76.78 373.7,76.36 373.2,75.93 372.7,75.51 372.2,75.08 371.7,74.65 371.2,74.23 370.7,73.8 370.2,73.37 369.7,72.95 369.2,72.52 368.7,72.09 368.2,71.67 367.7,71.24 367.2,70.81 366.7,70.39 366.2,69.96 365.7,69.53 365.2,69.11 364.7,68.68 364.2,68.25 363.7,67.83 363.2,67.4 362.7,66.97 362.2,66.55 361.7,66.12 361.2,65.69 360.7,65.27 360.2,64.84 359.7,64.41 359.2,63.99 358.7,63.56 358.2,63.13 357.7,62.71 357.2,62.28 356.7,61.85 356.2,61.43 355.7,61 355.2,60.57 354.7,60.15 354.2,59.72 353.7,59.29 353.2,58.87 352.7,58.44 352.2,58.01 351.7,57.62 351.2,57.24 350.7,56.86 350.2,56.48 349.7,56.1 349.2,55.71 348.7,55.33 348.2,54.95 347.7,54.57 347.2,54.19 346.7,53.81 346.2,53.42 345.7,53.04 345.2,52.66 344.7,52.28 344.2,51.9 343.7,51.52 343.2,51.14 342.7,50.75 342.2,50.37 341.7,49.99 341.2,49.61 340.7,49.23 340.2,48.85 339.7,48.46 339.2,48.08 338.7,47.7 338.2,47.32 337.7,46.94 337.2,46.56 336.7,46.17 336.2,45.79 335.7,45.41 335.2,45.03 334.7,44.65 334.2,44.27 333.7,43.88 333.2,43.5 332.7,43.12 332.2,42.74 331.7,42.36 331.2,41.98 330.7,41.59 330.2,41.21 329.7,40.83 329.2,40.45 328.7,40.07 328.2,39.69 327.7,39.3 327.2,38.92 326.7,38.54 326.2,38.16 325.7,37.78 325.2,37.4 324.7,37.01 324.2,36.63 323.7,36.25 323.2,35.87 322.7,35.49 322.2,35.11 321.7,34.72 321.2,34.34 320.7,33.96 320.2,33.58 319.7,33.2 319.2,32.82 318.7,32.43 318.2,32.05 317.7,31.67 317.2,31.29 316.7,30.91 316.2,30.53 315.7,30.14 315.2,29.76 314.7,29.38 314.2,29" fill="#cc2228" />
<rect x="315.1" y="34.09" width="1.7" height="1.8" fill="#1f77c0"/>
<rect x="315.1" y="21.98" width="1.7" height="12.81" fill="#cc2228"/>
<rect x="318.36" y="24.43" width="1.7" height="13.45" fill="#cc2228"/>
<rect x="321.63" y="39.87" width="1.7" height="1.8" fill="#1f77c0"/>
<rect x="321.63" y="26.89" width="1.7" height="13.68" fill="#cc2228"/>
<rect x="324.89" y="29.34" width="1.7" height="14.26" fill="#cc2228"/>
<rect x="325.09" y="28.74" width="1.2" height="1.0" fill="#1f77c0"/>
<rect x="328.16" y="31.8" width="1.7" height="14.78" fill="#cc2228"/>
<rect x="331.42" y="34.25" width="1.7" height="13.69" fill="#cc2228"/>
<rect x="331.62" y="33.65" width="1.2" height="1.0" fill="#1f77c0"/>
<rect x="334.69" y="36.71" width="1.7" height="14.2" fill="#cc2228"/>
<rect x="337.95" y="53.2" width="1.7" height="1.8" fill="#1f77c0"/>
<rect x="337.95" y="39.16" width="1.7" height="14.73" fill="#cc2228"/>
<rect x="341.22" y="41.62" width="1.7" height="13.62" fill="#cc2228"/>
<rect x="341.42" y="41.02" width="1.2" height="1.0" fill="#1f77c0"/>
<rect x="344.48" y="57.88" width="1.7" height="1.8" fill="#1f77c0"/>
<rect x="344.48" y="44.08" width="1.7" height="14.51" fill="#cc2228"/>
<rect x="347.75" y="60.91" width="1.7" height="1.8" fill="#1f77c0"/>
<rect x="347.75" y="46.53" width="1.7" height="15.08" fill="#cc2228"/>
<rect x="351.01" y="62.74" width="1.7" height="1.8" fill="#1f77c0"/>
<rect x="351.01" y="48.99" width="1.7" height="14.45" fill="#cc2228"/>
<rect x="354.28" y="64.42" width="1.7" height="1.8" fill="#1f77c0"/>
<rect x="354.28" y="51.71" width="1.7" height="13.41" fill="#cc2228"/>
<rect x="354.48" y="51.11" width="1.2" height="1.0" fill="#1f77c0"/>
<rect x="357.54" y="67.87" width="1.7" height="1.8" fill="#1f77c0"/>
<rect x="357.54" y="54.46" width="1.7" height="14.11" fill="#cc2228"/>
<rect x="360.81" y="57.21" width="1.7" height="15.08" fill="#cc2228"/>
<rect x="361.01" y="56.61" width="1.2" height="1.0" fill="#1f77c0"/>
<rect x="364.07" y="73.9" width="1.7" height="1.8" fill="#1f77c0"/>
<rect x="364.07" y="59.96" width="1.7" height="14.64" fill="#cc2228"/>
<rect x="367.34" y="77.49" width="1.7" height="1.8" fill="#1f77c0"/>
<rect x="367.34" y="62.7" width="1.7" height="15.49" fill="#cc2228"/>
<rect x="370.6" y="79.69" width="1.7" height="1.8" fill="#1f77c0"/>
<rect x="370.6" y="65.45" width="1.7" height="14.94" fill="#cc2228"/>
<rect x="373.87" y="68.2" width="1.7" height="14.27" fill="#cc2228"/>
<rect x="374.07" y="67.6" width="1.2" height="1.0" fill="#1f77c0"/>
<rect x="377.13" y="70.95" width="1.7" height="14" fill="#cc2228"/>
<rect x="380.4" y="87.12" width="1.7" height="1.8" fill="#1f77c0"/>
<rect x="380.4" y="73.7" width="1.7" height="14.12" fill="#cc2228"/>
<rect x="380.6" y="73.1" width="1.2" height="1.0" fill="#1f77c0"/>
<rect x="383.66" y="76.45" width="1.7" height="14.99" fill="#cc2228"/>
<rect x="386.93" y="92.26" width="1.7" height="1.8" fill="#1f77c0"/>
<rect x="386.93" y="78.94" width="1.7" height="14.02" fill="#cc2228"/>
<rect x="390.19" y="81.38" width="1.7" height="14.82" fill="#cc2228"/>
<rect x="390.39" y="80.78" width="1.2" height="1.0" fill="#1f77c0"/>
<rect x="393.46" y="98.77" width="1.7" height="1.8" fill="#1f77c0"/>
<rect x="393.46" y="83.82" width="1.7" height="15.65" fill="#cc2228"/>
<rect x="396.72" y="86.26" width="1.7" height="15.47" fill="#cc2228"/>
<rect x="396.92" y="85.66" width="1.2" height="1.0" fill="#1f77c0"/>
<rect x="399.99" y="103.33" width="1.7" height="1.8" fill="#1f77c0"/>
<rect x="399.99" y="88.7" width="1.7" height="15.33" fill="#cc2228"/>
<rect x="400.19" y="88.1" width="1.2" height="1.0" fill="#1f77c0"/>
<rect x="403.25" y="104.99" width="1.7" height="1.8" fill="#1f77c0"/>
<rect x="403.25" y="91.14" width="1.7" height="14.55" fill="#cc2228"/>
<rect x="406.52" y="108.2" width="1.7" height="1.8" fill="#1f77c0"/>
<rect x="406.52" y="93.14" width="1.7" height="15.76" fill="#cc2228"/>
<rect x="406.72" y="92.54" width="1.2" height="1.0" fill="#1f77c0"/>
<rect x="409.78" y="95.09" width="1.7" height="14.62" fill="#cc2228"/>
<rect x="413.05" y="97.03" width="1.7" height="14.92" fill="#cc2228"/>
<rect x="416.31" y="112.76" width="1.7" height="1.8" fill="#1f77c0"/>
<rect x="416.31" y="98.98" width="1.7" height="14.48" fill="#cc2228"/>
<rect x="419.58" y="115.88" width="1.7" height="1.8" fill="#1f77c0"/>
<rect x="419.58" y="100.92" width="1.7" height="15.66" fill="#cc2228"/>
<rect x="419.78" y="100.32" width="1.2" height="1.0" fill="#1f77c0"/>
<rect x="422.84" y="116.95" width="1.7" height="1.8" fill="#1f77c0"/>
<rect x="422.84" y="102.87" width="1.7" height="14.78" fill="#cc2228"/>
<rect x="426.11" y="104.96" width="1.7" height="15.07" fill="#cc2228"/>
<rect x="426.31" y="104.36" width="1.2" height="1.0" fill="#1f77c0"/>
<rect x="429.37" y="107.08" width="1.7" height="14.72" fill="#cc2228"/>
<rect x="432.64" y="123.2" width="1.7" height="1.8" fill="#1f77c0"/>
<rect x="432.64" y="108.45" width="1.7" height="15.45" fill="#cc2228"/>
<rect x="435.9" y="109.81" width="1.7" height="15.14" fill="#cc2228"/>
<rect x="436.1" y="109.21" width="1.2" height="1.0" fill="#1f77c0"/>
<rect x="439.17" y="111.16" width="1.7" height="14.55" fill="#cc2228"/>
<rect x="439.37" y="110.56" width="1.2" height="1.0" fill="#1f77c0"/>
<rect x="442.44" y="112.52" width="1.7" height="16.12" fill="#cc2228"/>
<rect x="445.7" y="113.88" width="1.7" height="14.73" fill="#cc2228"/>
<rect x="445.9" y="113.28" width="1.2" height="1.0" fill="#1f77c0"/>
<rect x="448.96" y="115.24" width="1.7" height="16.62" fill="#cc2228"/>
<rect x="449.16" y="114.64" width="1.2" height="1.0" fill="#1f77c0"/>
<rect x="452.23" y="116.6" width="1.7" height="15.08" fill="#cc2228"/>
<rect x="455.49" y="132.46" width="1.7" height="1.8" fill="#1f77c0"/>
<rect x="455.49" y="117.96" width="1.7" height="15.2" fill="#cc2228"/>
<rect x="455.69" y="117.36" width="1.2" height="1.0" fill="#1f77c0"/>
<rect x="458.76" y="119.31" width="1.7" height="15.9" fill="#cc2228"/>
<rect x="462.02" y="136.79" width="1.7" height="1.8" fill="#1f77c0"/>
<rect x="462.02" y="120.67" width="1.7" height="16.81" fill="#cc2228"/>
<rect x="465.29" y="122.03" width="1.7" height="16.33" fill="#cc2228"/>
<rect x="465.49" y="121.43" width="1.2" height="1.0" fill="#1f77c0"/>
<rect x="468.56" y="123.39" width="1.7" height="16.5" fill="#cc2228"/>
<rect x="471.82" y="140.22" width="1.7" height="1.8" fill="#1f77c0"/>
<rect x="471.82" y="124.79" width="1.7" height="16.13" fill="#cc2228"/>
<rect x="472.02" y="124.19" width="1.2" height="1.0" fill="#1f77c0"/>
<rect x="475.08" y="143.08" width="1.7" height="1.8" fill="#1f77c0"/>
<rect x="475.08" y="126.19" width="1.7" height="17.59" fill="#cc2228"/>
<rect x="475.28" y="125.59" width="1.2" height="1.0" fill="#1f77c0"/>
<rect x="478.35" y="127.59" width="1.7" height="16.03" fill="#cc2228"/>
<rect x="478.55" y="126.99" width="1.2" height="1.0" fill="#1f77c0"/>
<rect x="481.61" y="128.99" width="1.7" height="17.8" fill="#cc2228"/>
<rect x="484.88" y="146.32" width="1.7" height="1.8" fill="#1f77c0"/>
<rect x="484.88" y="130.38" width="1.7" height="16.64" fill="#cc2228"/>
<rect x="488.14" y="131.78" width="1.7" height="18.18" fill="#cc2228"/>
<rect x="488.34" y="131.18" width="1.2" height="1.0" fill="#1f77c0"/>
<rect x="491.41" y="133.18" width="1.7" height="17.79" fill="#cc2228"/>
<rect x="494.68" y="134.58" width="1.7" height="17.95" fill="#cc2228"/>
<rect x="497.94" y="152.64" width="1.7" height="1.8" fill="#1f77c0"/>
<rect x="497.94" y="135.98" width="1.7" height="17.37" fill="#cc2228"/>
<rect x="501.2" y="153.75" width="1.7" height="1.8" fill="#1f77c0"/>
<rect x="501.2" y="137.39" width="1.7" height="17.06" fill="#cc2228"/>
<rect x="504.47" y="156.26" width="1.7" height="1.8" fill="#1f77c0"/>
<rect x="504.47" y="138.91" width="1.7" height="18.05" fill="#cc2228"/>
<rect x="507.73" y="140.44" width="1.7" height="17.64" fill="#cc2228"/>
<rect x="511" y="159.2" width="1.7" height="1.8" fill="#1f77c0"/>
<rect x="511" y="141.96" width="1.7" height="17.95" fill="#cc2228"/>
<rect x="511.2" y="141.36" width="1.2" height="1.0" fill="#1f77c0"/>
<rect x="514.27" y="161.97" width="1.7" height="1.8" fill="#1f77c0"/>
<rect x="514.27" y="143.48" width="1.7" height="19.19" fill="#cc2228"/>
<rect x="514.47" y="142.88" width="1.2" height="1.0" fill="#1f77c0"/>
<rect x="517.53" y="163.59" width="1.7" height="1.8" fill="#1f77c0"/>
<rect x="517.53" y="145" width="1.7" height="19.28" fill="#cc2228"/>
<rect x="520.8" y="164.94" width="1.7" height="1.8" fill="#1f77c0"/>
<rect x="520.8" y="146.53" width="1.7" height="19.11" fill="#cc2228"/>
<rect x="521" y="145.93" width="1.2" height="1.0" fill="#1f77c0"/>
<rect x="524.06" y="166.14" width="1.7" height="1.8" fill="#1f77c0"/>
<rect x="524.06" y="148.05" width="1.7" height="18.79" fill="#cc2228"/>
<rect x="527.33" y="149.57" width="1.7" height="19.41" fill="#cc2228"/>
<rect x="530.59" y="168.57" width="1.7" height="1.8" fill="#1f77c0"/>
<rect x="530.59" y="151.1" width="1.7" height="18.17" fill="#cc2228"/>
<rect x="533.86" y="170.39" width="1.7" height="1.8" fill="#1f77c0"/>
<rect x="533.86" y="152.62" width="1.7" height="18.47" fill="#cc2228"/>
<rect x="534.05" y="152.02" width="1.2" height="1.0" fill="#1f77c0"/>
<rect x="537.12" y="173.7" width="1.7" height="1.8" fill="#1f77c0"/>
<rect x="537.12" y="154.16" width="1.7" height="20.24" fill="#cc2228"/>
<rect x="313.7" y="7.6" width="227.5" height="175.2" fill="none" stroke="#8c8c8c" stroke-width="1.0"/>
<line x1="313.7" y1="182.8" x2="313.7" y2="180.6" stroke="#8c8c8c" stroke-width="1.0"/>
<line x1="313.7" y1="7.6" x2="313.7" y2="9.8" stroke="#8c8c8c" stroke-width="1.0"/>
<text x="313.7" y="196.2" font-size="9.3" text-anchor="middle" fill="#2b2b2b" stroke="#2b2b2b" stroke-width="0.14" >0</text>
<line x1="359.05" y1="182.8" x2="359.05" y2="180.6" stroke="#8c8c8c" stroke-width="1.0"/>
<line x1="359.05" y1="7.6" x2="359.05" y2="9.8" stroke="#8c8c8c" stroke-width="1.0"/>
<text x="359.05" y="196.2" font-size="9.3" text-anchor="middle" fill="#2b2b2b" stroke="#2b2b2b" stroke-width="0.14" >0.5</text>
<line x1="404.4" y1="182.8" x2="404.4" y2="180.6" stroke="#8c8c8c" stroke-width="1.0"/>
<line x1="404.4" y1="7.6" x2="404.4" y2="9.8" stroke="#8c8c8c" stroke-width="1.0"/>
<text x="404.4" y="196.2" font-size="9.3" text-anchor="middle" fill="#2b2b2b" stroke="#2b2b2b" stroke-width="0.14" >1</text>
<line x1="449.75" y1="182.8" x2="449.75" y2="180.6" stroke="#8c8c8c" stroke-width="1.0"/>
<line x1="449.75" y1="7.6" x2="449.75" y2="9.8" stroke="#8c8c8c" stroke-width="1.0"/>
<text x="449.75" y="196.2" font-size="9.3" text-anchor="middle" fill="#2b2b2b" stroke="#2b2b2b" stroke-width="0.14" >1.5</text>
<line x1="495.1" y1="182.8" x2="495.1" y2="180.6" stroke="#8c8c8c" stroke-width="1.0"/>
<line x1="495.1" y1="7.6" x2="495.1" y2="9.8" stroke="#8c8c8c" stroke-width="1.0"/>
<text x="495.1" y="196.2" font-size="9.3" text-anchor="middle" fill="#2b2b2b" stroke="#2b2b2b" stroke-width="0.14" >2</text>
<line x1="540.45" y1="182.8" x2="540.45" y2="180.6" stroke="#8c8c8c" stroke-width="1.0"/>
<line x1="540.45" y1="7.6" x2="540.45" y2="9.8" stroke="#8c8c8c" stroke-width="1.0"/>
<text x="540.45" y="196.2" font-size="9.3" text-anchor="middle" fill="#2b2b2b" stroke="#2b2b2b" stroke-width="0.14" >2.5</text>
<line x1="313.7" y1="7.6" x2="315.9" y2="7.6" stroke="#8c8c8c" stroke-width="1.0"/>
<line x1="541.2" y1="7.6" x2="539" y2="7.6" stroke="#8c8c8c" stroke-width="1.0"/>
<text x="310.6" y="11.27" font-size="9.3" text-anchor="end" fill="#2b2b2b" stroke="#2b2b2b" stroke-width="0.14" >4.2</text>
<line x1="313.7" y1="29.5" x2="315.9" y2="29.5" stroke="#8c8c8c" stroke-width="1.0"/>
<line x1="541.2" y1="29.5" x2="539" y2="29.5" stroke="#8c8c8c" stroke-width="1.0"/>
<text x="310.6" y="33.17" font-size="9.3" text-anchor="end" fill="#2b2b2b" stroke="#2b2b2b" stroke-width="0.14" >4.1</text>
<line x1="313.7" y1="51.4" x2="315.9" y2="51.4" stroke="#8c8c8c" stroke-width="1.0"/>
<line x1="541.2" y1="51.4" x2="539" y2="51.4" stroke="#8c8c8c" stroke-width="1.0"/>
<text x="310.6" y="55.07" font-size="9.3" text-anchor="end" fill="#2b2b2b" stroke="#2b2b2b" stroke-width="0.14" >4</text>
<line x1="313.7" y1="73.3" x2="315.9" y2="73.3" stroke="#8c8c8c" stroke-width="1.0"/>
<line x1="541.2" y1="73.3" x2="539" y2="73.3" stroke="#8c8c8c" stroke-width="1.0"/>
<text x="310.6" y="76.97" font-size="9.3" text-anchor="end" fill="#2b2b2b" stroke="#2b2b2b" stroke-width="0.14" >3.9</text>
<line x1="313.7" y1="95.2" x2="315.9" y2="95.2" stroke="#8c8c8c" stroke-width="1.0"/>
<line x1="541.2" y1="95.2" x2="539" y2="95.2" stroke="#8c8c8c" stroke-width="1.0"/>
<text x="310.6" y="98.87" font-size="9.3" text-anchor="end" fill="#2b2b2b" stroke="#2b2b2b" stroke-width="0.14" >3.8</text>
<line x1="313.7" y1="117.1" x2="315.9" y2="117.1" stroke="#8c8c8c" stroke-width="1.0"/>
<line x1="541.2" y1="117.1" x2="539" y2="117.1" stroke="#8c8c8c" stroke-width="1.0"/>
<text x="310.6" y="120.77" font-size="9.3" text-anchor="end" fill="#2b2b2b" stroke="#2b2b2b" stroke-width="0.14" >3.7</text>
<line x1="313.7" y1="139" x2="315.9" y2="139" stroke="#8c8c8c" stroke-width="1.0"/>
<line x1="541.2" y1="139" x2="539" y2="139" stroke="#8c8c8c" stroke-width="1.0"/>
<text x="310.6" y="142.67" font-size="9.3" text-anchor="end" fill="#2b2b2b" stroke="#2b2b2b" stroke-width="0.14" >3.6</text>
<line x1="313.7" y1="160.9" x2="315.9" y2="160.9" stroke="#8c8c8c" stroke-width="1.0"/>
<line x1="541.2" y1="160.9" x2="539" y2="160.9" stroke="#8c8c8c" stroke-width="1.0"/>
<text x="310.6" y="164.57" font-size="9.3" text-anchor="end" fill="#2b2b2b" stroke="#2b2b2b" stroke-width="0.14" >3.5</text>
<line x1="313.7" y1="182.8" x2="315.9" y2="182.8" stroke="#8c8c8c" stroke-width="1.0"/>
<line x1="541.2" y1="182.8" x2="539" y2="182.8" stroke="#8c8c8c" stroke-width="1.0"/>
<text x="310.6" y="186.47" font-size="9.3" text-anchor="end" fill="#2b2b2b" stroke="#2b2b2b" stroke-width="0.14" >3.4</text>
<line x1="321.3" y1="160.2" x2="342" y2="160.2" stroke="#1f77c0" stroke-width="1.5"/>
<line x1="321.3" y1="170.8" x2="342" y2="170.8" stroke="#cc2228" stroke-width="1.6" stroke-dasharray="5 1.5 2.5 1.5"/>
<text x="344.2" y="163.1" font-size="8.8" text-anchor="start" fill="#222" stroke="#222" stroke-width="0.14" >Experiment</text>
<text x="344.2" y="173.7" font-size="8.8" text-anchor="start" fill="#222" stroke="#222" stroke-width="0.14" >FOMe</text>
<text x="542" y="210.3" font-size="10.2" text-anchor="end" fill="#2b2b2b">×10<tspan font-size="7.55" dy="-4.59">4</tspan></text>
<text x="428" y="207.7" font-size="10.6" text-anchor="middle" fill="#2b2b2b" stroke="#2b2b2b" stroke-width="0.14" >Time / s</text>
<text transform="translate(293.9,95.1) rotate(-90)" x="0" y="0" font-size="11.0" text-anchor="middle" fill="#2b2b2b">Voltage / V</text>
<text x="436.6" y="229.3" font-size="13.6" text-anchor="middle" fill="#111" stroke="#111" stroke-width="0.14" font-weight="bold">(b)</text>
<line x1="66.9" y1="242.4" x2="66.9" y2="411.3" stroke="#e9e9e9" stroke-width="0.8"/>
<line x1="101.2" y1="242.4" x2="101.2" y2="411.3" stroke="#e9e9e9" stroke-width="0.8"/>
<line x1="135.5" y1="242.4" x2="135.5" y2="411.3" stroke="#e9e9e9" stroke-width="0.8"/>
<line x1="169.8" y1="242.4" x2="169.8" y2="411.3" stroke="#e9e9e9" stroke-width="0.8"/>
<line x1="204.1" y1="242.4" x2="204.1" y2="411.3" stroke="#e9e9e9" stroke-width="0.8"/>
<line x1="238.4" y1="242.4" x2="238.4" y2="411.3" stroke="#e9e9e9" stroke-width="0.8"/>
<line x1="32.6" y1="276.18" x2="252.5" y2="276.18" stroke="#e9e9e9" stroke-width="0.8"/>
<line x1="32.6" y1="309.96" x2="252.5" y2="309.96" stroke="#e9e9e9" stroke-width="0.8"/>
<line x1="32.6" y1="343.74" x2="252.5" y2="343.74" stroke="#e9e9e9" stroke-width="0.8"/>
<line x1="32.6" y1="377.52" x2="252.5" y2="377.52" stroke="#e9e9e9" stroke-width="0.8"/>
<polygon points="33,253.9 33.74,253.97 34.48,254.1 35.21,254.27 35.95,254.47 36.69,254.69 37.42,254.94 38.16,255.21 38.9,255.5 39.59,255.76 40.17,256.5 40.56,257.6 40.7,258.9 40.7,263.5 40.56,262.2 40.17,261.1 39.59,260.36 38.9,260.1 38.16,259.81 37.42,259.54 36.69,259.29 35.95,259.07 35.21,258.87 34.48,258.7 33.74,258.57 33,258.5" fill="#1f77c0" />
<polygon points="40.7,258.9 41.49,258.97 42.28,259.1 43.08,259.27 43.87,259.47 44.66,259.69 45.45,259.94 46.25,260.21 47.04,260.5 47.73,260.8 48.31,261.67 48.7,262.96 48.84,264.49 48.84,269.1 48.7,267.58 48.31,266.29 47.73,265.42 47.04,265.12 46.25,264.83 45.45,264.56 44.66,264.31 43.87,264.08 43.08,263.89 42.28,263.72 41.49,263.59 40.7,263.52" fill="#1f77c0" />
<polygon points="48.84,264.49 49.63,264.56 50.42,264.69 51.22,264.85 52.01,265.05 52.8,265.28 53.59,265.52 54.39,265.79 55.18,266.09 55.87,266.39 56.45,267.25 56.84,268.55 56.98,270.07 56.98,274.71 56.84,273.18 56.45,271.89 55.87,271.03 55.18,270.72 54.39,270.43 53.59,270.16 52.8,269.91 52.01,269.69 51.22,269.49 50.42,269.32 49.63,269.19 48.84,269.12" fill="#1f77c0" />
<polygon points="56.98,270.07 57.77,270.14 58.56,270.27 59.36,270.44 60.15,270.64 60.94,270.86 61.73,271.11 62.53,271.38 63.32,271.67 64.01,271.97 64.59,272.84 64.98,274.13 65.12,275.66 65.12,280.31 64.98,278.79 64.59,277.49 64.01,276.63 63.32,276.33 62.53,276.04 61.73,275.77 60.94,275.52 60.15,275.29 59.36,275.09 58.56,274.93 57.77,274.8 56.98,274.73" fill="#1f77c0" />
<polygon points="65.12,275.66 65.91,275.73 66.7,275.86 67.5,276.02 68.29,276.22 69.08,276.45 69.88,276.7 70.67,276.97 71.46,277.26 72.15,277.56 72.73,278.42 73.12,279.72 73.26,281.24 73.26,285.91 73.12,284.39 72.73,283.1 72.15,282.23 71.46,281.93 70.67,281.64 69.88,281.37 69.08,281.12 68.29,280.9 67.5,280.7 66.7,280.53 65.91,280.4 65.12,280.33" fill="#1f77c0" />
<polygon points="73.26,281.24 74.05,281.31 74.84,281.44 75.64,281.61 76.43,281.81 77.22,282.03 78.02,282.28 78.81,282.55 79.6,282.84 80.29,283.13 80.87,283.96 81.26,285.21 81.4,286.67 81.4,291.37 81.26,289.9 80.87,288.66 80.29,287.82 79.6,287.53 78.81,287.24 78.02,286.97 77.22,286.72 76.43,286.5 75.64,286.3 74.84,286.13 74.05,286 73.26,285.93" fill="#1f77c0" />
<polygon points="81.4,286.67 82.19,286.74 82.98,286.87 83.78,287.04 84.57,287.24 85.36,287.46 86.16,287.71 86.95,287.98 87.74,288.27 88.43,288.61 89.01,289.57 89.4,291.01 89.54,292.7 89.54,297.41 89.4,295.72 89.01,294.28 88.43,293.32 87.74,292.99 86.95,292.7 86.16,292.42 85.36,292.18 84.57,291.95 83.78,291.75 82.98,291.59 82.19,291.46 81.4,291.39" fill="#1f77c0" />
<polygon points="89.54,292.7 90.33,292.77 91.12,292.9 91.92,293.07 92.71,293.27 93.5,293.49 94.3,293.74 95.09,294.01 95.88,294.3 96.57,294.62 97.15,295.53 97.54,296.9 97.68,298.51 97.68,303.24 97.54,301.63 97.15,300.26 96.57,299.35 95.88,299.03 95.09,298.74 94.3,298.47 93.5,298.22 92.71,298 91.92,297.8 91.12,297.63 90.33,297.5 89.54,297.43" fill="#1f77c0" />
<polygon points="97.68,298.51 98.47,298.59 99.27,298.71 100.06,298.88 100.85,299.08 101.64,299.31 102.44,299.55 103.23,299.82 104.02,300.11 104.71,300.39 105.29,301.17 105.68,302.33 105.82,303.71 105.82,308.46 105.68,307.08 105.29,305.92 104.71,305.14 104.02,304.86 103.23,304.57 102.44,304.3 101.64,304.05 100.85,303.83 100.06,303.63 99.27,303.46 98.47,303.33 97.68,303.26" fill="#1f77c0" />
<polygon points="105.82,303.71 106.61,303.78 107.41,303.9 108.2,304.06 108.99,304.24 109.78,304.45 110.58,304.69 111.37,304.94 112.16,305.21 112.85,305.43 113.43,306.03 113.82,306.94 113.96,308 113.96,312.77 113.82,311.7 113.43,310.8 112.85,310.19 112.16,309.98 111.37,309.71 110.58,309.45 109.78,309.22 108.99,309.01 108.2,308.82 107.41,308.67 106.61,308.54 105.82,308.48" fill="#1f77c0" />
<polygon points="113.96,308 114.75,308.07 115.55,308.2 116.34,308.37 117.13,308.57 117.92,308.79 118.72,309.04 119.51,309.31 120.3,309.6 120.99,309.88 121.57,310.66 121.96,311.82 122.1,313.2 122.1,317.99 121.96,316.61 121.57,315.44 120.99,314.66 120.3,314.39 119.51,314.1 118.72,313.83 117.92,313.58 117.13,313.35 116.34,313.16 115.55,312.99 114.75,312.86 113.96,312.79" fill="#1f77c0" />
<polygon points="122.1,313.2 122.89,313.26 123.69,313.38 124.48,313.53 125.27,313.7 126.06,313.9 126.86,314.13 127.65,314.37 128.44,314.62 129.13,314.83 129.71,315.4 130.1,316.26 130.24,317.27 130.24,322.1 130.1,321.09 129.71,320.23 129.13,319.65 128.44,319.45 127.65,319.19 126.86,318.95 126.06,318.73 125.27,318.53 124.48,318.36 123.69,318.21 122.89,318.09 122.1,318.03" fill="#1f77c0" />
<polygon points="130.24,317.27 131.03,317.33 131.83,317.44 132.62,317.58 133.41,317.74 134.2,317.93 135,318.14 135.79,318.37 136.58,318.61 137.27,318.8 137.85,319.34 138.24,320.14 138.38,321.1 138.38,326.06 138.24,325.11 137.85,324.3 137.27,323.76 136.58,323.57 135.79,323.33 135,323.1 134.2,322.9 133.41,322.71 132.62,322.54 131.83,322.4 131.03,322.29 130.24,322.23" fill="#1f77c0" />
<polygon points="138.38,321.1 139.17,321.16 139.97,321.29 140.76,321.44 141.55,321.63 142.34,321.84 143.14,322.08 143.93,322.34 144.72,322.61 145.41,322.82 145.99,323.43 146.38,324.35 146.52,325.42 146.52,330.52 146.38,329.44 145.99,328.53 145.41,327.92 144.72,327.71 143.93,327.44 143.14,327.18 142.34,326.94 141.55,326.73 140.76,326.54 139.97,326.39 139.17,326.26 138.38,326.2" fill="#1f77c0" />
<polygon points="146.52,325.42 147.31,325.47 148.11,325.55 148.9,325.65 149.69,325.77 150.48,325.92 151.28,326.07 152.07,326.24 152.86,326.42 153.55,326.56 154.13,326.97 154.52,327.57 154.66,328.28 154.66,333.51 154.52,332.8 154.13,332.2 153.55,331.8 152.86,331.66 152.07,331.48 151.28,331.31 150.48,331.15 149.69,331.01 148.9,330.89 148.11,330.78 147.31,330.7 146.52,330.66" fill="#1f77c0" />
<polygon points="154.66,328.28 155.45,328.33 156.25,328.42 157.04,328.53 157.83,328.67 158.62,328.82 159.42,329 160.21,329.18 161,329.38 161.69,329.54 162.27,329.98 162.66,330.65 162.8,331.43 162.8,336.8 162.66,336.02 162.27,335.35 161.69,334.91 161,334.75 160.21,334.55 159.42,334.37 158.62,334.19 157.83,334.04 157.04,333.9 156.25,333.79 155.45,333.7 154.66,333.65" fill="#1f77c0" />
<polygon points="162.8,331.43 163.59,331.47 164.39,331.56 165.18,331.66 165.97,331.79 166.76,331.93 167.56,332.08 168.35,332.25 169.14,332.44 169.83,332.58 170.41,332.98 170.8,333.59 170.94,334.31 170.94,339.81 170.8,339.1 170.41,338.49 169.83,338.09 169.14,337.94 168.35,337.76 167.56,337.59 166.76,337.43 165.97,337.29 165.18,337.17 164.39,337.06 163.59,336.98 162.8,336.94" fill="#1f77c0" />
<polygon points="170.94,334.31 171.73,334.34 172.53,334.4 173.32,334.48 174.11,334.58 174.9,334.68 175.7,334.8 176.49,334.93 177.28,335.06 177.97,335.17 178.55,335.48 178.94,335.93 179.08,336.47 179.08,342.11 178.94,341.57 178.55,341.12 177.97,340.81 177.28,340.71 176.49,340.57 175.7,340.44 174.9,340.32 174.11,340.22 173.32,340.12 172.53,340.04 171.73,339.98 170.94,339.95" fill="#1f77c0" />
<polygon points="179.08,336.47 179.87,336.52 180.67,336.62 181.46,336.74 182.25,336.89 183.04,337.06 183.84,337.24 184.63,337.45 185.42,337.66 186.11,337.83 186.69,338.31 187.08,339.03 187.22,339.88 187.22,345.65 187.08,344.81 186.69,344.09 186.11,343.61 185.42,343.44 184.63,343.22 183.84,343.02 183.04,342.84 182.25,342.67 181.46,342.52 180.67,342.4 179.87,342.3 179.08,342.25" fill="#1f77c0" />
<polygon points="187.22,339.88 188.01,339.92 188.81,340 189.6,340.1 190.39,340.22 191.18,340.36 191.98,340.51 192.77,340.67 193.56,340.85 194.25,340.99 194.83,341.38 195.22,341.96 195.36,342.65 195.36,348.47 195.22,347.78 194.83,347.2 194.25,346.8 193.56,346.67 192.77,346.49 191.98,346.33 191.18,346.18 190.39,346.04 189.6,345.92 188.81,345.82 188.01,345.74 187.22,345.69" fill="#1f77c0" />
<polygon points="195.36,342.65 196.15,342.7 196.95,342.78 197.74,342.88 198.53,343 199.32,343.14 200.12,343.29 200.91,343.45 201.7,343.63 202.39,343.77 202.97,344.16 203.36,344.75 203.5,345.44 203.5,351.28 203.36,350.59 202.97,350 202.39,349.61 201.7,349.47 200.91,349.3 200.12,349.13 199.32,348.98 198.53,348.84 197.74,348.72 196.95,348.62 196.15,348.54 195.36,348.5" fill="#1f77c0" />
<polygon points="203.5,345.44 204.29,345.49 205.09,345.58 205.88,345.7 206.67,345.84 207.46,346 208.26,346.17 209.05,346.36 209.84,346.57 210.53,346.73 211.11,347.18 211.5,347.87 211.64,348.67 211.64,354.53 211.5,353.73 211.11,353.05 210.53,352.6 209.84,352.44 209.05,352.23 208.26,352.04 207.46,351.86 206.67,351.71 205.88,351.57 205.09,351.45 204.29,351.36 203.5,351.31" fill="#1f77c0" />
<polygon points="211.64,348.67 212.43,348.73 213.23,348.84 214.02,348.99 214.81,349.16 215.6,349.36 216.4,349.57 217.19,349.81 217.98,350.06 218.67,350.26 219.25,350.82 219.64,351.65 219.78,352.64 219.78,358.53 219.64,357.54 219.25,356.7 218.67,356.14 217.98,355.95 217.19,355.7 216.4,355.46 215.6,355.24 214.81,355.05 214.02,354.88 213.23,354.73 212.43,354.62 211.64,354.56" fill="#1f77c0" />
<polygon points="219.78,352.64 220.57,352.69 221.37,352.79 222.16,352.91 222.95,353.06 223.74,353.22 224.54,353.4 225.33,353.6 226.12,353.81 226.81,353.98 227.39,354.45 227.78,355.15 227.92,355.98 227.92,361.9 227.78,361.07 227.39,360.36 226.81,359.89 226.12,359.72 225.33,359.51 224.54,359.31 223.74,359.13 222.95,358.97 222.16,358.82 221.37,358.7 220.57,358.61 219.78,358.55" fill="#1f77c0" />
<polygon points="227.92,355.98 228.71,356.03 229.51,356.12 230.3,356.24 231.09,356.37 231.88,356.53 232.68,356.7 233.47,356.88 234.26,357.08 234.95,357.24 235.53,357.68 235.92,358.34 236.06,359.13 236.06,365.06 235.92,364.28 235.53,363.62 234.95,363.18 234.26,363.02 233.47,362.82 232.68,362.63 231.88,362.46 231.09,362.31 230.3,362.17 229.51,362.06 228.71,361.97 227.92,361.92" fill="#1f77c0" />
<polygon points="236.06,359.13 236.85,359.18 237.65,359.27 238.44,359.39 239.23,359.53 240.02,359.69 240.82,359.87 241.61,360.06 242.4,360.27 243.09,360.43 243.67,360.89 244.06,361.59 244.2,362.4 244.2,368.36 244.06,367.54 243.67,366.85 243.09,366.39 242.4,366.23 241.61,366.02 240.82,365.83 240.02,365.65 239.23,365.49 238.44,365.35 237.65,365.23 236.85,365.14 236.06,365.08" fill="#1f77c0" />
<polygon points="244.2,362.4 244.68,362.43 245.15,362.49 245.63,362.56 246.1,362.65 246.58,362.75 247.05,362.85 247.53,362.97 248,363.1 248.69,363.2 249.27,363.48 249.66,363.9 249.8,364.4 249.8,370.38 249.66,369.88 249.27,369.46 248.69,369.18 248,369.08 247.53,368.96 247.05,368.84 246.58,368.73 246.1,368.63 245.63,368.54 245.15,368.47 244.68,368.41 244.2,368.38" fill="#1f77c0" />
<polygon points="32.6,253.3 33.34,253.37 34.08,253.5 34.81,253.67 35.55,253.87 36.29,254.09 37.02,254.34 37.76,254.61 38.5,254.9 39.19,255.16 39.77,255.9 40.16,257 40.3,258.3 40.3,262.9 40.16,261.6 39.77,260.5 39.19,259.76 38.5,259.5 37.76,259.21 37.02,258.94 36.29,258.69 35.55,258.47 34.81,258.27 34.08,258.1 33.34,257.97 32.6,257.9" fill="#cc2228" />
<polygon points="40.3,258.3 41.09,258.37 41.88,258.5 42.68,258.67 43.47,258.87 44.26,259.09 45.05,259.34 45.85,259.61 46.64,259.9 47.33,260.2 47.91,261.07 48.3,262.36 48.44,263.89 48.44,268.5 48.3,266.98 47.91,265.69 47.33,264.82 46.64,264.52 45.85,264.23 45.05,263.96 44.26,263.71 43.47,263.48 42.68,263.29 41.88,263.12 41.09,262.99 40.3,262.92" fill="#cc2228" />
<polygon points="48.44,263.89 49.23,263.96 50.02,264.09 50.82,264.25 51.61,264.45 52.4,264.68 53.2,264.92 53.99,265.19 54.78,265.49 55.47,265.79 56.05,266.65 56.44,267.95 56.58,269.47 56.58,274.11 56.44,272.58 56.05,271.29 55.47,270.43 54.78,270.12 53.99,269.83 53.2,269.56 52.4,269.31 51.61,269.09 50.82,268.89 50.02,268.72 49.23,268.59 48.44,268.52" fill="#cc2228" />
<polygon points="56.58,269.47 57.37,269.54 58.16,269.67 58.96,269.84 59.75,270.04 60.54,270.26 61.34,270.51 62.13,270.78 62.92,271.07 63.61,271.37 64.19,272.24 64.58,273.53 64.72,275.06 64.72,279.71 64.58,278.19 64.19,276.89 63.61,276.03 62.92,275.73 62.13,275.44 61.34,275.17 60.54,274.92 59.75,274.69 58.96,274.49 58.16,274.33 57.37,274.2 56.58,274.13" fill="#cc2228" />
<polygon points="64.72,275.06 65.51,275.13 66.3,275.26 67.1,275.42 67.89,275.62 68.68,275.85 69.47,276.1 70.27,276.37 71.06,276.66 71.75,276.96 72.33,277.82 72.72,279.12 72.86,280.64 72.86,285.31 72.72,283.79 72.33,282.5 71.75,281.63 71.06,281.33 70.27,281.04 69.47,280.77 68.68,280.52 67.89,280.3 67.1,280.1 66.3,279.93 65.51,279.8 64.72,279.73" fill="#cc2228" />
<polygon points="72.86,280.64 73.65,280.71 74.44,280.84 75.24,281.01 76.03,281.21 76.82,281.43 77.61,281.68 78.41,281.95 79.2,282.24 79.89,282.53 80.47,283.36 80.86,284.61 81,286.07 81,290.77 80.86,289.3 80.47,288.06 79.89,287.22 79.2,286.93 78.41,286.64 77.61,286.37 76.82,286.12 76.03,285.9 75.24,285.7 74.44,285.53 73.65,285.4 72.86,285.33" fill="#cc2228" />
<polygon points="81,286.07 81.79,286.14 82.58,286.27 83.38,286.44 84.17,286.64 84.96,286.86 85.75,287.11 86.55,287.38 87.34,287.67 88.03,288.01 88.61,288.97 89,290.41 89.14,292.1 89.14,296.81 89,295.12 88.61,293.68 88.03,292.72 87.34,292.39 86.55,292.1 85.75,291.82 84.96,291.58 84.17,291.35 83.38,291.15 82.58,290.99 81.79,290.86 81,290.79" fill="#cc2228" />
<polygon points="89.14,292.1 89.93,292.17 90.72,292.3 91.52,292.47 92.31,292.67 93.1,292.89 93.89,293.14 94.69,293.41 95.48,293.7 96.17,294.02 96.75,294.93 97.14,296.3 97.28,297.91 97.28,302.64 97.14,301.03 96.75,299.66 96.17,298.75 95.48,298.43 94.69,298.14 93.89,297.87 93.1,297.62 92.31,297.4 91.52,297.2 90.72,297.03 89.93,296.9 89.14,296.83" fill="#cc2228" />
<polygon points="97.28,297.91 98.07,297.99 98.86,298.11 99.66,298.28 100.45,298.48 101.24,298.71 102.03,298.95 102.83,299.22 103.62,299.51 104.31,299.79 104.89,300.57 105.28,301.73 105.42,303.11 105.42,307.86 105.28,306.48 104.89,305.32 104.31,304.54 103.62,304.26 102.83,303.97 102.03,303.7 101.24,303.45 100.45,303.23 99.66,303.03 98.86,302.86 98.07,302.73 97.28,302.66" fill="#cc2228" />
<polygon points="105.42,303.11 106.21,303.18 107,303.3 107.8,303.46 108.59,303.64 109.38,303.85 110.17,304.09 110.97,304.34 111.76,304.61 112.45,304.83 113.03,305.43 113.42,306.34 113.56,307.4 113.56,312.17 113.42,311.1 113.03,310.2 112.45,309.59 111.76,309.38 110.97,309.11 110.17,308.85 109.38,308.62 108.59,308.41 107.8,308.22 107,308.07 106.21,307.94 105.42,307.88" fill="#cc2228" />
<polygon points="113.56,307.4 114.35,307.47 115.14,307.6 115.94,307.77 116.73,307.97 117.52,308.19 118.31,308.44 119.11,308.71 119.9,309 120.59,309.28 121.17,310.06 121.56,311.22 121.7,312.6 121.7,317.39 121.56,316.01 121.17,314.84 120.59,314.06 119.9,313.79 119.11,313.5 118.31,313.23 117.52,312.98 116.73,312.75 115.94,312.56 115.14,312.39 114.35,312.26 113.56,312.19" fill="#cc2228" />
<polygon points="121.7,312.6 122.49,312.66 123.28,312.78 124.08,312.93 124.87,313.1 125.66,313.3 126.45,313.53 127.25,313.77 128.04,314.02 128.73,314.23 129.31,314.8 129.7,315.66 129.84,316.67 129.84,321.5 129.7,320.49 129.31,319.63 128.73,319.05 128.04,318.85 127.25,318.59 126.45,318.35 125.66,318.13 124.87,317.93 124.08,317.76 123.28,317.61 122.49,317.49 121.7,317.43" fill="#cc2228" />
<polygon points="129.84,316.67 130.63,316.73 131.43,316.84 132.22,316.98 133.01,317.14 133.8,317.33 134.6,317.54 135.39,317.77 136.18,318.01 136.87,318.2 137.45,318.74 137.84,319.54 137.98,320.5 137.98,325.46 137.84,324.51 137.45,323.7 136.87,323.16 136.18,322.97 135.39,322.73 134.6,322.5 133.8,322.3 133.01,322.11 132.22,321.94 131.43,321.8 130.63,321.69 129.84,321.63" fill="#cc2228" />
<polygon points="137.98,320.5 138.77,320.56 139.57,320.69 140.36,320.84 141.15,321.03 141.94,321.24 142.74,321.48 143.53,321.74 144.32,322.01 145.01,322.22 145.59,322.83 145.98,323.75 146.12,324.82 146.12,329.92 145.98,328.84 145.59,327.93 145.01,327.32 144.32,327.11 143.53,326.84 142.74,326.58 141.94,326.34 141.15,326.13 140.36,325.94 139.57,325.79 138.77,325.66 137.98,325.6" fill="#cc2228" />
<polygon points="146.12,324.82 146.91,324.87 147.71,324.95 148.5,325.05 149.29,325.17 150.08,325.32 150.88,325.47 151.67,325.64 152.46,325.82 153.15,325.96 153.73,326.37 154.12,326.97 154.26,327.68 154.26,332.91 154.12,332.2 153.73,331.6 153.15,331.2 152.46,331.06 151.67,330.88 150.88,330.71 150.08,330.55 149.29,330.41 148.5,330.29 147.71,330.18 146.91,330.1 146.12,330.06" fill="#cc2228" />
<polygon points="154.26,327.68 155.05,327.73 155.84,327.82 156.64,327.93 157.43,328.07 158.22,328.22 159.02,328.4 159.81,328.58 160.6,328.78 161.29,328.94 161.87,329.38 162.26,330.05 162.4,330.83 162.4,336.2 162.26,335.42 161.87,334.75 161.29,334.31 160.6,334.15 159.81,333.95 159.02,333.77 158.22,333.59 157.43,333.44 156.64,333.3 155.84,333.19 155.05,333.1 154.26,333.05" fill="#cc2228" />
<polygon points="162.4,330.83 163.19,330.87 163.99,330.96 164.78,331.06 165.57,331.19 166.36,331.33 167.16,331.48 167.95,331.65 168.74,331.84 169.43,331.98 170.01,332.38 170.4,332.99 170.54,333.71 170.54,339.21 170.4,338.5 170.01,337.89 169.43,337.49 168.74,337.34 167.95,337.16 167.16,336.99 166.36,336.83 165.57,336.69 164.78,336.57 163.99,336.46 163.19,336.38 162.4,336.34" fill="#cc2228" />
<polygon points="170.54,333.71 171.33,333.74 172.13,333.8 172.92,333.88 173.71,333.98 174.5,334.08 175.3,334.2 176.09,334.33 176.88,334.46 177.57,334.57 178.15,334.88 178.54,335.33 178.68,335.87 178.68,341.51 178.54,340.97 178.15,340.52 177.57,340.21 176.88,340.11 176.09,339.97 175.3,339.84 174.5,339.72 173.71,339.62 172.92,339.52 172.13,339.44 171.33,339.38 170.54,339.35" fill="#cc2228" />
<polygon points="178.68,335.87 179.47,335.92 180.27,336.02 181.06,336.14 181.85,336.29 182.64,336.46 183.44,336.64 184.23,336.85 185.02,337.06 185.71,337.23 186.29,337.71 186.68,338.43 186.82,339.28 186.82,345.05 186.68,344.21 186.29,343.49 185.71,343.01 185.02,342.84 184.23,342.62 183.44,342.42 182.64,342.24 181.85,342.07 181.06,341.92 180.27,341.8 179.47,341.7 178.68,341.65" fill="#cc2228" />
<polygon points="186.82,339.28 187.61,339.32 188.41,339.4 189.2,339.5 189.99,339.62 190.78,339.76 191.58,339.91 192.37,340.07 193.16,340.25 193.85,340.39 194.43,340.78 194.82,341.36 194.96,342.05 194.96,347.87 194.82,347.18 194.43,346.6 193.85,346.2 193.16,346.07 192.37,345.89 191.58,345.73 190.78,345.58 189.99,345.44 189.2,345.32 188.41,345.22 187.61,345.14 186.82,345.09" fill="#cc2228" />
<polygon points="194.96,342.05 195.75,342.1 196.55,342.18 197.34,342.28 198.13,342.4 198.92,342.54 199.72,342.69 200.51,342.85 201.3,343.03 201.99,343.17 202.57,343.56 202.96,344.15 203.1,344.84 203.1,350.68 202.96,349.99 202.57,349.4 201.99,349.01 201.3,348.87 200.51,348.7 199.72,348.53 198.92,348.38 198.13,348.24 197.34,348.12 196.55,348.02 195.75,347.94 194.96,347.9" fill="#cc2228" />
<polygon points="203.1,344.84 203.89,344.89 204.69,344.98 205.48,345.1 206.27,345.24 207.06,345.4 207.86,345.57 208.65,345.76 209.44,345.97 210.13,346.13 210.71,346.58 211.1,347.27 211.24,348.07 211.24,353.93 211.1,353.13 210.71,352.45 210.13,352 209.44,351.84 208.65,351.63 207.86,351.44 207.06,351.26 206.27,351.11 205.48,350.97 204.69,350.85 203.89,350.76 203.1,350.71" fill="#cc2228" />
<polygon points="211.24,348.07 212.03,348.13 212.83,348.24 213.62,348.39 214.41,348.56 215.2,348.76 216,348.97 216.79,349.21 217.58,349.46 218.27,349.66 218.85,350.22 219.24,351.05 219.38,352.04 219.38,357.93 219.24,356.94 218.85,356.1 218.27,355.54 217.58,355.35 216.79,355.1 216,354.86 215.2,354.64 214.41,354.45 213.62,354.28 212.83,354.13 212.03,354.02 211.24,353.96" fill="#cc2228" />
<polygon points="219.38,352.04 220.17,352.09 220.97,352.19 221.76,352.31 222.55,352.46 223.34,352.62 224.14,352.8 224.93,353 225.72,353.21 226.41,353.38 226.99,353.85 227.38,354.55 227.52,355.38 227.52,361.3 227.38,360.47 226.99,359.76 226.41,359.29 225.72,359.12 224.93,358.91 224.14,358.71 223.34,358.53 222.55,358.37 221.76,358.22 220.97,358.1 220.17,358.01 219.38,357.95" fill="#cc2228" />
<polygon points="227.52,355.38 228.31,355.43 229.11,355.52 229.9,355.64 230.69,355.77 231.48,355.93 232.28,356.1 233.07,356.28 233.86,356.48 234.55,356.64 235.13,357.08 235.52,357.74 235.66,358.53 235.66,364.46 235.52,363.68 235.13,363.02 234.55,362.58 233.86,362.42 233.07,362.22 232.28,362.03 231.48,361.86 230.69,361.71 229.9,361.57 229.11,361.46 228.31,361.37 227.52,361.32" fill="#cc2228" />
<polygon points="235.66,358.53 236.45,358.58 237.25,358.67 238.04,358.79 238.83,358.93 239.62,359.09 240.42,359.27 241.21,359.46 242,359.67 242.69,359.83 243.27,360.29 243.66,360.99 243.8,361.8 243.8,367.76 243.66,366.94 243.27,366.25 242.69,365.79 242,365.63 241.21,365.42 240.42,365.23 239.62,365.05 238.83,364.89 238.04,364.75 237.25,364.63 236.45,364.54 235.66,364.48" fill="#cc2228" />
<polygon points="243.8,361.8 244.28,361.83 244.75,361.89 245.23,361.96 245.7,362.05 246.18,362.15 246.65,362.25 247.12,362.37 247.6,362.5 248.29,362.6 248.87,362.88 249.26,363.3 249.4,363.8 249.4,369.78 249.26,369.28 248.87,368.86 248.29,368.58 247.6,368.48 247.12,368.36 246.65,368.24 246.18,368.13 245.7,368.03 245.23,367.94 244.75,367.87 244.28,367.81 243.8,367.78" fill="#cc2228" />
<polygon points="248.8,362.5 250.6,365 252,372 252.3,396 251.2,396 250.6,372 248.8,369" fill="#1f77c0" />
<polygon points="248.6,362.3 250.4,364.5 251.6,371 251.9,395 250.9,395 250.2,372 248.5,368.5" fill="#cc2228" />
<rect x="39.5" y="268.8" width="1.6" height="2.2" fill="#1f77c0"/>
<rect x="39.5" y="259.3" width="1.7" height="11.1" fill="#cc2228"/>
<rect x="47.64" y="274.68" width="1.6" height="2.2" fill="#1f77c0"/>
<rect x="47.64" y="264.89" width="1.7" height="11.39" fill="#cc2228"/>
<rect x="55.78" y="279.82" width="1.6" height="2.2" fill="#1f77c0"/>
<rect x="55.78" y="270.47" width="1.7" height="10.95" fill="#cc2228"/>
<rect x="63.92" y="285.81" width="1.6" height="2.2" fill="#1f77c0"/>
<rect x="63.92" y="276.06" width="1.7" height="11.35" fill="#cc2228"/>
<rect x="72.06" y="291.12" width="1.6" height="2.2" fill="#1f77c0"/>
<rect x="72.06" y="281.64" width="1.7" height="11.08" fill="#cc2228"/>
<rect x="80.2" y="297.04" width="1.6" height="2.2" fill="#1f77c0"/>
<rect x="80.2" y="287.07" width="1.7" height="11.57" fill="#cc2228"/>
<rect x="88.34" y="302.9" width="1.6" height="2.2" fill="#1f77c0"/>
<rect x="88.34" y="293.1" width="1.7" height="11.4" fill="#cc2228"/>
<rect x="96.48" y="308.81" width="1.6" height="2.2" fill="#1f77c0"/>
<rect x="96.48" y="298.91" width="1.7" height="11.5" fill="#cc2228"/>
<rect x="104.62" y="314.01" width="1.6" height="2.2" fill="#1f77c0"/>
<rect x="104.62" y="304.11" width="1.7" height="11.5" fill="#cc2228"/>
<rect x="112.76" y="318.3" width="1.6" height="2.2" fill="#1f77c0"/>
<rect x="112.76" y="308.4" width="1.7" height="11.5" fill="#cc2228"/>
<rect x="120.9" y="323.5" width="1.6" height="2.2" fill="#1f77c0"/>
<rect x="120.9" y="313.6" width="1.7" height="11.5" fill="#cc2228"/>
<rect x="129.04" y="327.57" width="1.6" height="2.2" fill="#1f77c0"/>
<rect x="129.04" y="317.67" width="1.7" height="11.5" fill="#cc2228"/>
<rect x="137.18" y="331.01" width="1.6" height="2.2" fill="#1f77c0"/>
<rect x="137.18" y="321.5" width="1.7" height="11.11" fill="#cc2228"/>
<rect x="145.32" y="334.91" width="1.6" height="2.2" fill="#1f77c0"/>
<rect x="145.32" y="325.82" width="1.7" height="10.69" fill="#cc2228"/>
<rect x="153.46" y="338.43" width="1.6" height="2.2" fill="#1f77c0"/>
<rect x="153.46" y="328.68" width="1.7" height="11.35" fill="#cc2228"/>
<rect x="161.6" y="341.84" width="1.6" height="2.2" fill="#1f77c0"/>
<rect x="161.6" y="331.83" width="1.7" height="11.61" fill="#cc2228"/>
<rect x="169.74" y="344.78" width="1.6" height="2.2" fill="#1f77c0"/>
<rect x="169.74" y="334.71" width="1.7" height="11.67" fill="#cc2228"/>
<rect x="177.88" y="346.97" width="1.6" height="2.2" fill="#1f77c0"/>
<rect x="177.88" y="336.87" width="1.7" height="11.7" fill="#cc2228"/>
<rect x="186.02" y="351.18" width="1.6" height="2.2" fill="#1f77c0"/>
<rect x="186.02" y="340.28" width="1.7" height="12.51" fill="#cc2228"/>
<rect x="194.16" y="354.26" width="1.6" height="2.2" fill="#1f77c0"/>
<rect x="194.16" y="343.05" width="1.7" height="12.8" fill="#cc2228"/>
<rect x="202.3" y="357.24" width="1.6" height="2.2" fill="#1f77c0"/>
<rect x="202.3" y="345.84" width="1.7" height="13" fill="#cc2228"/>
<rect x="210.44" y="360.47" width="1.6" height="2.2" fill="#1f77c0"/>
<rect x="210.44" y="349.07" width="1.7" height="13.01" fill="#cc2228"/>
<rect x="218.58" y="364.74" width="1.6" height="2.2" fill="#1f77c0"/>
<rect x="218.58" y="353.04" width="1.7" height="13.3" fill="#cc2228"/>
<rect x="226.72" y="368.65" width="1.6" height="2.2" fill="#1f77c0"/>
<rect x="226.72" y="356.38" width="1.7" height="13.86" fill="#cc2228"/>
<rect x="234.86" y="371.84" width="1.6" height="2.2" fill="#1f77c0"/>
<rect x="234.86" y="359.53" width="1.7" height="13.91" fill="#cc2228"/>
<rect x="243" y="377.2" width="1.6" height="2.2" fill="#1f77c0"/>
<rect x="243" y="362.8" width="1.7" height="16" fill="#cc2228"/>
<rect x="32.6" y="242.4" width="219.9" height="168.9" fill="none" stroke="#8c8c8c" stroke-width="1.0"/>
<line x1="32.6" y1="411.3" x2="32.6" y2="409.1" stroke="#8c8c8c" stroke-width="1.0"/>
<line x1="32.6" y1="242.4" x2="32.6" y2="244.6" stroke="#8c8c8c" stroke-width="1.0"/>
<text x="32.6" y="423.8" font-size="9.3" text-anchor="middle" fill="#2b2b2b" stroke="#2b2b2b" stroke-width="0.14" >0</text>
<line x1="66.9" y1="411.3" x2="66.9" y2="409.1" stroke="#8c8c8c" stroke-width="1.0"/>
<line x1="66.9" y1="242.4" x2="66.9" y2="244.6" stroke="#8c8c8c" stroke-width="1.0"/>
<text x="66.9" y="423.8" font-size="9.3" text-anchor="middle" fill="#2b2b2b" stroke="#2b2b2b" stroke-width="0.14" >0.5</text>
<line x1="101.2" y1="411.3" x2="101.2" y2="409.1" stroke="#8c8c8c" stroke-width="1.0"/>
<line x1="101.2" y1="242.4" x2="101.2" y2="244.6" stroke="#8c8c8c" stroke-width="1.0"/>
<text x="101.2" y="423.8" font-size="9.3" text-anchor="middle" fill="#2b2b2b" stroke="#2b2b2b" stroke-width="0.14" >1</text>
<line x1="135.5" y1="411.3" x2="135.5" y2="409.1" stroke="#8c8c8c" stroke-width="1.0"/>
<line x1="135.5" y1="242.4" x2="135.5" y2="244.6" stroke="#8c8c8c" stroke-width="1.0"/>
<text x="135.5" y="423.8" font-size="9.3" text-anchor="middle" fill="#2b2b2b" stroke="#2b2b2b" stroke-width="0.14" >1.5</text>
<line x1="169.8" y1="411.3" x2="169.8" y2="409.1" stroke="#8c8c8c" stroke-width="1.0"/>
<line x1="169.8" y1="242.4" x2="169.8" y2="244.6" stroke="#8c8c8c" stroke-width="1.0"/>
<text x="169.8" y="423.8" font-size="9.3" text-anchor="middle" fill="#2b2b2b" stroke="#2b2b2b" stroke-width="0.14" >2</text>
<line x1="204.1" y1="411.3" x2="204.1" y2="409.1" stroke="#8c8c8c" stroke-width="1.0"/>
<line x1="204.1" y1="242.4" x2="204.1" y2="244.6" stroke="#8c8c8c" stroke-width="1.0"/>
<text x="204.1" y="423.8" font-size="9.3" text-anchor="middle" fill="#2b2b2b" stroke="#2b2b2b" stroke-width="0.14" >2.5</text>
<line x1="238.4" y1="411.3" x2="238.4" y2="409.1" stroke="#8c8c8c" stroke-width="1.0"/>
<line x1="238.4" y1="242.4" x2="238.4" y2="244.6" stroke="#8c8c8c" stroke-width="1.0"/>
<text x="238.4" y="423.8" font-size="9.3" text-anchor="middle" fill="#2b2b2b" stroke="#2b2b2b" stroke-width="0.14" >3</text>
<line x1="32.6" y1="242.4" x2="34.8" y2="242.4" stroke="#8c8c8c" stroke-width="1.0"/>
<line x1="252.5" y1="242.4" x2="250.3" y2="242.4" stroke="#8c8c8c" stroke-width="1.0"/>
<text x="29.2" y="246.47" font-size="9.3" text-anchor="end" fill="#2b2b2b" stroke="#2b2b2b" stroke-width="0.14" >4.2</text>
<line x1="32.6" y1="276.18" x2="34.8" y2="276.18" stroke="#8c8c8c" stroke-width="1.0"/>
<line x1="252.5" y1="276.18" x2="250.3" y2="276.18" stroke="#8c8c8c" stroke-width="1.0"/>
<text x="29.2" y="280.25" font-size="9.3" text-anchor="end" fill="#2b2b2b" stroke="#2b2b2b" stroke-width="0.14" >4</text>
<line x1="32.6" y1="309.96" x2="34.8" y2="309.96" stroke="#8c8c8c" stroke-width="1.0"/>
<line x1="252.5" y1="309.96" x2="250.3" y2="309.96" stroke="#8c8c8c" stroke-width="1.0"/>
<text x="29.2" y="314.03" font-size="9.3" text-anchor="end" fill="#2b2b2b" stroke="#2b2b2b" stroke-width="0.14" >3.8</text>
<line x1="32.6" y1="343.74" x2="34.8" y2="343.74" stroke="#8c8c8c" stroke-width="1.0"/>
<line x1="252.5" y1="343.74" x2="250.3" y2="343.74" stroke="#8c8c8c" stroke-width="1.0"/>
<text x="29.2" y="347.81" font-size="9.3" text-anchor="end" fill="#2b2b2b" stroke="#2b2b2b" stroke-width="0.14" >3.6</text>
<line x1="32.6" y1="377.52" x2="34.8" y2="377.52" stroke="#8c8c8c" stroke-width="1.0"/>
<line x1="252.5" y1="377.52" x2="250.3" y2="377.52" stroke="#8c8c8c" stroke-width="1.0"/>
<text x="29.2" y="381.59" font-size="9.3" text-anchor="end" fill="#2b2b2b" stroke="#2b2b2b" stroke-width="0.14" >3.4</text>
<line x1="32.6" y1="411.3" x2="34.8" y2="411.3" stroke="#8c8c8c" stroke-width="1.0"/>
<line x1="252.5" y1="411.3" x2="250.3" y2="411.3" stroke="#8c8c8c" stroke-width="1.0"/>
<text x="29.2" y="415.37" font-size="9.3" text-anchor="end" fill="#2b2b2b" stroke="#2b2b2b" stroke-width="0.14" >3.2</text>
<line x1="39.9" y1="389.2" x2="59.8" y2="389.2" stroke="#1f77c0" stroke-width="1.5"/>
<line x1="39.9" y1="398.9" x2="59.8" y2="398.9" stroke="#cc2228" stroke-width="1.6" stroke-dasharray="5 1.5 2.5 1.5"/>
<text x="62" y="392.1" font-size="8.8" text-anchor="start" fill="#222" stroke="#222" stroke-width="0.14" >Experiment</text>
<text x="62" y="401.8" font-size="8.8" text-anchor="start" fill="#222" stroke="#222" stroke-width="0.14" >FOMe</text>
<text x="253.3" y="438.4" font-size="10.2" text-anchor="end" fill="#2b2b2b">×10<tspan font-size="7.55" dy="-4.59">4</tspan></text>
<text x="143" y="435.2" font-size="10.6" text-anchor="middle" fill="#2b2b2b" stroke="#2b2b2b" stroke-width="0.14" >Time / s</text>
<text transform="translate(14.3,324.5) rotate(-90)" x="0" y="0" font-size="11.0" text-anchor="middle" fill="#2b2b2b">Voltage / V</text>
<text x="146.5" y="456.6" font-size="13.6" text-anchor="middle" fill="#111" stroke="#111" stroke-width="0.14" font-weight="bold">(c)</text>
<line x1="348.4" y1="239.3" x2="348.4" y2="412.9" stroke="#e9e9e9" stroke-width="0.8"/>
<line x1="399.9" y1="239.3" x2="399.9" y2="412.9" stroke="#e9e9e9" stroke-width="0.8"/>
<line x1="451.4" y1="239.3" x2="451.4" y2="412.9" stroke="#e9e9e9" stroke-width="0.8"/>
<line x1="502.9" y1="239.3" x2="502.9" y2="412.9" stroke="#e9e9e9" stroke-width="0.8"/>
<line x1="317" y1="263.6" x2="537.2" y2="263.6" stroke="#e9e9e9" stroke-width="0.8"/>
<line x1="317" y1="289.2" x2="537.2" y2="289.2" stroke="#e9e9e9" stroke-width="0.8"/>
<line x1="317" y1="314.8" x2="537.2" y2="314.8" stroke="#e9e9e9" stroke-width="0.8"/>
<line x1="317" y1="340.4" x2="537.2" y2="340.4" stroke="#e9e9e9" stroke-width="0.8"/>
<line x1="317" y1="366" x2="537.2" y2="366" stroke="#e9e9e9" stroke-width="0.8"/>
<line x1="317" y1="391.6" x2="537.2" y2="391.6" stroke="#e9e9e9" stroke-width="0.8"/>
<polyline points="345,413.2 345,401.6 345,392.9 345.1,386 345.9,379.5 346.6,375.2 347.6,371.5 348.7,368.7 349.8,366.3 352.2,362.5 356.1,359.4 362.9,356.1 368.7,352.8 375.5,348.4 381.3,345.9 388,344.5 394.8,345.1 400.6,346.4 407.4,350.3 412,355 415.3,360.5 417.9,353 421.3,346.5 424.2,341.5 428.3,336 430.7,331.5 434,325 438.6,317.2 443.7,308.5 450.8,298.7 459.4,287.8 466.5,279.3 476.3,268.4 487.8,252.9 494.5,239.8" fill="none" stroke="#2a78bd" stroke-width="1.4" stroke-linejoin="round" />
<circle cx="345" cy="413.2" r="2.0" fill="none" stroke="#2a78bd" stroke-width="1.2"/>
<circle cx="345" cy="401.6" r="2.0" fill="none" stroke="#2a78bd" stroke-width="1.2"/>
<circle cx="345" cy="392.9" r="2.0" fill="none" stroke="#2a78bd" stroke-width="1.2"/>
<circle cx="345.1" cy="386" r="2.0" fill="none" stroke="#2a78bd" stroke-width="1.2"/>
<circle cx="345.9" cy="379.5" r="2.0" fill="none" stroke="#2a78bd" stroke-width="1.2"/>
<circle cx="346.6" cy="375.2" r="2.0" fill="none" stroke="#2a78bd" stroke-width="1.2"/>
<circle cx="347.6" cy="371.5" r="2.0" fill="none" stroke="#2a78bd" stroke-width="1.2"/>
<circle cx="348.7" cy="368.7" r="2.0" fill="none" stroke="#2a78bd" stroke-width="1.2"/>
<circle cx="349.8" cy="366.3" r="2.0" fill="none" stroke="#2a78bd" stroke-width="1.2"/>
<circle cx="350.6" cy="365.03" r="2.0" fill="none" stroke="#2a78bd" stroke-width="1.25"/>
<circle cx="351.4" cy="363.76" r="2.0" fill="none" stroke="#2a78bd" stroke-width="1.25"/>
<circle cx="352.2" cy="362.5" r="2.0" fill="none" stroke="#2a78bd" stroke-width="1.25"/>
<circle cx="353.38" cy="361.56" r="2.0" fill="none" stroke="#2a78bd" stroke-width="1.25"/>
<circle cx="354.55" cy="360.63" r="2.0" fill="none" stroke="#2a78bd" stroke-width="1.25"/>
<circle cx="355.73" cy="359.7" r="2.0" fill="none" stroke="#2a78bd" stroke-width="1.25"/>
<circle cx="357.02" cy="358.95" r="2.0" fill="none" stroke="#2a78bd" stroke-width="1.25"/>
<circle cx="358.37" cy="358.3" r="2.0" fill="none" stroke="#2a78bd" stroke-width="1.25"/>
<circle cx="359.72" cy="357.64" r="2.0" fill="none" stroke="#2a78bd" stroke-width="1.25"/>
<circle cx="361.07" cy="356.99" r="2.0" fill="none" stroke="#2a78bd" stroke-width="1.25"/>
<circle cx="362.42" cy="356.33" r="2.0" fill="none" stroke="#2a78bd" stroke-width="1.25"/>
<circle cx="363.74" cy="355.62" r="2.0" fill="none" stroke="#2a78bd" stroke-width="1.25"/>
<circle cx="365.04" cy="354.88" r="2.0" fill="none" stroke="#2a78bd" stroke-width="1.25"/>
<circle cx="366.35" cy="354.14" r="2.0" fill="none" stroke="#2a78bd" stroke-width="1.25"/>
<circle cx="367.65" cy="353.4" r="2.0" fill="none" stroke="#2a78bd" stroke-width="1.25"/>
<circle cx="368.95" cy="352.64" r="2.0" fill="none" stroke="#2a78bd" stroke-width="1.25"/>
<circle cx="370.2" cy="351.83" r="2.0" fill="none" stroke="#2a78bd" stroke-width="1.25"/>
<circle cx="371.46" cy="351.01" r="2.0" fill="none" stroke="#2a78bd" stroke-width="1.25"/>
<circle cx="372.72" cy="350.2" r="2.0" fill="none" stroke="#2a78bd" stroke-width="1.25"/>
<circle cx="373.98" cy="349.38" r="2.0" fill="none" stroke="#2a78bd" stroke-width="1.25"/>
<circle cx="375.24" cy="348.57" r="2.0" fill="none" stroke="#2a78bd" stroke-width="1.25"/>
<circle cx="376.6" cy="347.93" r="2.0" fill="none" stroke="#2a78bd" stroke-width="1.25"/>
<circle cx="378.52" cy="347.1" r="2.0" fill="none" stroke="#2a78bd" stroke-width="1.25"/>
<circle cx="380.45" cy="346.27" r="2.0" fill="none" stroke="#2a78bd" stroke-width="1.25"/>
<circle cx="382.45" cy="345.66" r="2.0" fill="none" stroke="#2a78bd" stroke-width="1.25"/>
<circle cx="385.09" cy="345.11" r="2.0" fill="none" stroke="#2a78bd" stroke-width="1.25"/>
<circle cx="387.74" cy="344.55" r="2.0" fill="none" stroke="#2a78bd" stroke-width="1.25"/>
<circle cx="390.42" cy="344.71" r="2.0" fill="none" stroke="#2a78bd" stroke-width="1.25"/>
<circle cx="393.11" cy="344.95" r="2.0" fill="none" stroke="#2a78bd" stroke-width="1.25"/>
<circle cx="395.78" cy="345.32" r="2.0" fill="none" stroke="#2a78bd" stroke-width="1.25"/>
<circle cx="398.42" cy="345.91" r="2.0" fill="none" stroke="#2a78bd" stroke-width="1.25"/>
<circle cx="401" cy="346.63" r="2.0" fill="none" stroke="#2a78bd" stroke-width="1.25"/>
<circle cx="403.34" cy="347.97" r="2.0" fill="none" stroke="#2a78bd" stroke-width="1.25"/>
<circle cx="405.68" cy="349.32" r="2.0" fill="none" stroke="#2a78bd" stroke-width="1.25"/>
<circle cx="407.91" cy="350.82" r="2.0" fill="none" stroke="#2a78bd" stroke-width="1.25"/>
<circle cx="409.79" cy="352.75" r="2.0" fill="none" stroke="#2a78bd" stroke-width="1.25"/>
<circle cx="411.68" cy="354.68" r="2.0" fill="none" stroke="#2a78bd" stroke-width="1.25"/>
<circle cx="413.16" cy="356.93" r="2.0" fill="none" stroke="#2a78bd" stroke-width="1.25"/>
<circle cx="414.54" cy="359.24" r="2.0" fill="none" stroke="#2a78bd" stroke-width="1.25"/>
<circle cx="416.15" cy="358.04" r="2.0" fill="none" stroke="#2a78bd" stroke-width="1.2"/>
<circle cx="417" cy="355.59" r="2.0" fill="none" stroke="#2a78bd" stroke-width="1.2"/>
<circle cx="417.85" cy="353.13" r="2.0" fill="none" stroke="#2a78bd" stroke-width="1.2"/>
<circle cx="419.04" cy="350.82" r="2.0" fill="none" stroke="#2a78bd" stroke-width="1.2"/>
<circle cx="420.25" cy="348.51" r="2.0" fill="none" stroke="#2a78bd" stroke-width="1.2"/>
<circle cx="421.46" cy="346.22" r="2.0" fill="none" stroke="#2a78bd" stroke-width="1.2"/>
<circle cx="422.77" cy="343.97" r="2.0" fill="none" stroke="#2a78bd" stroke-width="1.2"/>
<circle cx="424.07" cy="341.72" r="2.0" fill="none" stroke="#2a78bd" stroke-width="1.2"/>
<circle cx="425.6" cy="339.62" r="2.0" fill="none" stroke="#2a78bd" stroke-width="1.2"/>
<circle cx="427.16" cy="337.53" r="2.0" fill="none" stroke="#2a78bd" stroke-width="1.2"/>
<circle cx="430.7" cy="331.5" r="2.0" fill="none" stroke="#2a78bd" stroke-width="1.2"/>
<circle cx="434" cy="325" r="2.0" fill="none" stroke="#2a78bd" stroke-width="1.2"/>
<circle cx="438.6" cy="317.2" r="2.0" fill="none" stroke="#2a78bd" stroke-width="1.2"/>
<circle cx="443.7" cy="308.5" r="2.0" fill="none" stroke="#2a78bd" stroke-width="1.2"/>
<circle cx="450.8" cy="298.7" r="2.0" fill="none" stroke="#2a78bd" stroke-width="1.2"/>
<circle cx="459.4" cy="287.8" r="2.0" fill="none" stroke="#2a78bd" stroke-width="1.2"/>
<circle cx="466.5" cy="279.3" r="2.0" fill="none" stroke="#2a78bd" stroke-width="1.2"/>
<circle cx="476.3" cy="268.4" r="2.0" fill="none" stroke="#2a78bd" stroke-width="1.2"/>
<circle cx="487.8" cy="252.9" r="2.0" fill="none" stroke="#2a78bd" stroke-width="1.2"/>
<circle cx="494.5" cy="239.8" r="2.0" fill="none" stroke="#2a78bd" stroke-width="1.2"/>
<polyline points="415.8,362.8 417.2,358.5 418.8,354 420.6,348.5 422.5,344.5 424.6,340.8 427.1,336.5 429.3,331.8 432.7,325.2 437.4,317.4 442.5,308.8 449.8,298.9 458.8,288 470.4,277.5 483,266.4 496.8,256.7 508.9,246.3" fill="none" stroke="#d32f2f" stroke-width="1.4" stroke-linejoin="round" />
<circle cx="415.8" cy="362.8" r="2.0" fill="none" stroke="#d32f2f" stroke-width="1.2"/>
<circle cx="416.3" cy="361.28" r="2.0" fill="none" stroke="#d32f2f" stroke-width="1.2"/>
<circle cx="416.79" cy="359.76" r="2.0" fill="none" stroke="#d32f2f" stroke-width="1.2"/>
<circle cx="417.29" cy="358.24" r="2.0" fill="none" stroke="#d32f2f" stroke-width="1.2"/>
<circle cx="417.83" cy="356.73" r="2.0" fill="none" stroke="#d32f2f" stroke-width="1.2"/>
<circle cx="418.37" cy="355.22" r="2.0" fill="none" stroke="#d32f2f" stroke-width="1.2"/>
<circle cx="418.89" cy="353.71" r="2.0" fill="none" stroke="#d32f2f" stroke-width="1.2"/>
<circle cx="419.39" cy="352.19" r="2.0" fill="none" stroke="#d32f2f" stroke-width="1.2"/>
<circle cx="419.89" cy="350.67" r="2.0" fill="none" stroke="#d32f2f" stroke-width="1.2"/>
<circle cx="420.39" cy="349.15" r="2.0" fill="none" stroke="#d32f2f" stroke-width="1.2"/>
<circle cx="420.99" cy="347.67" r="2.0" fill="none" stroke="#d32f2f" stroke-width="1.2"/>
<circle cx="421.68" cy="346.23" r="2.0" fill="none" stroke="#d32f2f" stroke-width="1.2"/>
<circle cx="422.37" cy="344.78" r="2.0" fill="none" stroke="#d32f2f" stroke-width="1.2"/>
<circle cx="424.6" cy="340.8" r="2.0" fill="none" stroke="#d32f2f" stroke-width="1.2"/>
<circle cx="427.1" cy="336.5" r="2.0" fill="none" stroke="#d32f2f" stroke-width="1.2"/>
<circle cx="429.3" cy="331.8" r="2.0" fill="none" stroke="#d32f2f" stroke-width="1.2"/>
<circle cx="432.7" cy="325.2" r="2.0" fill="none" stroke="#d32f2f" stroke-width="1.2"/>
<circle cx="437.4" cy="317.4" r="2.0" fill="none" stroke="#d32f2f" stroke-width="1.2"/>
<circle cx="442.5" cy="308.8" r="2.0" fill="none" stroke="#d32f2f" stroke-width="1.2"/>
<circle cx="449.8" cy="298.9" r="2.0" fill="none" stroke="#d32f2f" stroke-width="1.2"/>
<circle cx="458.8" cy="288" r="2.0" fill="none" stroke="#d32f2f" stroke-width="1.2"/>
<circle cx="470.4" cy="277.5" r="2.0" fill="none" stroke="#d32f2f" stroke-width="1.2"/>
<circle cx="483" cy="266.4" r="2.0" fill="none" stroke="#d32f2f" stroke-width="1.2"/>
<circle cx="496.8" cy="256.7" r="2.0" fill="none" stroke="#d32f2f" stroke-width="1.2"/>
<circle cx="508.9" cy="246.3" r="2.0" fill="none" stroke="#d32f2f" stroke-width="1.2"/>
<rect x="317" y="239.3" width="220.2" height="173.6" fill="none" stroke="#8c8c8c" stroke-width="1.0"/>
<line x1="348.4" y1="412.9" x2="348.4" y2="410.7" stroke="#8c8c8c" stroke-width="1.0"/>
<line x1="348.4" y1="239.3" x2="348.4" y2="241.5" stroke="#8c8c8c" stroke-width="1.0"/>
<text x="348.4" y="425.9" font-size="9.3" text-anchor="middle" fill="#2b2b2b" stroke="#2b2b2b" stroke-width="0.14" >1</text>
<line x1="399.9" y1="412.9" x2="399.9" y2="410.7" stroke="#8c8c8c" stroke-width="1.0"/>
<line x1="399.9" y1="239.3" x2="399.9" y2="241.5" stroke="#8c8c8c" stroke-width="1.0"/>
<text x="399.9" y="425.9" font-size="9.3" text-anchor="middle" fill="#2b2b2b" stroke="#2b2b2b" stroke-width="0.14" >2</text>
<line x1="451.4" y1="412.9" x2="451.4" y2="410.7" stroke="#8c8c8c" stroke-width="1.0"/>
<line x1="451.4" y1="239.3" x2="451.4" y2="241.5" stroke="#8c8c8c" stroke-width="1.0"/>
<text x="451.4" y="425.9" font-size="9.3" text-anchor="middle" fill="#2b2b2b" stroke="#2b2b2b" stroke-width="0.14" >3</text>
<line x1="502.9" y1="412.9" x2="502.9" y2="410.7" stroke="#8c8c8c" stroke-width="1.0"/>
<line x1="502.9" y1="239.3" x2="502.9" y2="241.5" stroke="#8c8c8c" stroke-width="1.0"/>
<text x="502.9" y="425.9" font-size="9.3" text-anchor="middle" fill="#2b2b2b" stroke="#2b2b2b" stroke-width="0.14" >4</text>
<line x1="317" y1="263.6" x2="319.2" y2="263.6" stroke="#8c8c8c" stroke-width="1.0"/>
<line x1="537.2" y1="263.6" x2="535" y2="263.6" stroke="#8c8c8c" stroke-width="1.0"/>
<text x="313.2" y="267.27" font-size="9.3" text-anchor="end" fill="#2b2b2b" stroke="#2b2b2b" stroke-width="0.14" >2</text>
<line x1="317" y1="289.2" x2="319.2" y2="289.2" stroke="#8c8c8c" stroke-width="1.0"/>
<line x1="537.2" y1="289.2" x2="535" y2="289.2" stroke="#8c8c8c" stroke-width="1.0"/>
<text x="313.2" y="292.87" font-size="9.3" text-anchor="end" fill="#2b2b2b" stroke="#2b2b2b" stroke-width="0.14" >1.5</text>
<line x1="317" y1="314.8" x2="319.2" y2="314.8" stroke="#8c8c8c" stroke-width="1.0"/>
<line x1="537.2" y1="314.8" x2="535" y2="314.8" stroke="#8c8c8c" stroke-width="1.0"/>
<text x="313.2" y="318.47" font-size="9.3" text-anchor="end" fill="#2b2b2b" stroke="#2b2b2b" stroke-width="0.14" >1</text>
<line x1="317" y1="340.4" x2="319.2" y2="340.4" stroke="#8c8c8c" stroke-width="1.0"/>
<line x1="537.2" y1="340.4" x2="535" y2="340.4" stroke="#8c8c8c" stroke-width="1.0"/>
<text x="313.2" y="344.07" font-size="9.3" text-anchor="end" fill="#2b2b2b" stroke="#2b2b2b" stroke-width="0.14" >0.5</text>
<line x1="317" y1="366" x2="319.2" y2="366" stroke="#8c8c8c" stroke-width="1.0"/>
<line x1="537.2" y1="366" x2="535" y2="366" stroke="#8c8c8c" stroke-width="1.0"/>
<text x="313.2" y="369.67" font-size="9.3" text-anchor="end" fill="#2b2b2b" stroke="#2b2b2b" stroke-width="0.14" >0</text>
<line x1="317" y1="391.6" x2="319.2" y2="391.6" stroke="#8c8c8c" stroke-width="1.0"/>
<line x1="537.2" y1="391.6" x2="535" y2="391.6" stroke="#8c8c8c" stroke-width="1.0"/>
<text x="313.2" y="395.27" font-size="9.3" text-anchor="end" fill="#2b2b2b" stroke="#2b2b2b" stroke-width="0.14" >-0.5</text>
<line x1="340.1" y1="272.2" x2="360" y2="272.2" stroke="#2a78bd" stroke-width="1.3"/>
<circle cx="350" cy="272.2" r="2.0" fill="none" stroke="#2a78bd" stroke-width="1.2"/>
<line x1="340.1" y1="282.4" x2="360" y2="282.4" stroke="#d32f2f" stroke-width="1.3"/>
<circle cx="350" cy="282.4" r="2.0" fill="none" stroke="#d32f2f" stroke-width="1.2"/>
<text x="361.9" y="275.2" font-size="8.8" text-anchor="start" fill="#222" stroke="#222" stroke-width="0.14" >Experiment</text>
<text x="361.9" y="285.4" font-size="8.8" text-anchor="start" fill="#222" stroke="#222" stroke-width="0.14" >FOMe</text>
<text x="427.1" y="437.3" font-size="10.4" text-anchor="middle" fill="#2b2b2b" stroke="#2b2b2b" stroke-width="0.14" >Z'(mΩ)</text>
<text transform="translate(294.2,326.5) rotate(-90)" x="0" y="0" font-size="10.4" text-anchor="middle" fill="#2b2b2b">Z''(mΩ)</text>
<text x="436.8" y="456.6" font-size="13.6" text-anchor="middle" fill="#111" stroke="#111" stroke-width="0.14" font-weight="bold">(d)</text>
<rect x="158.6" y="19.2" width="92.2" height="64.4" fill="#fff"/>
<line x1="165.7" y1="19.2" x2="165.7" y2="83.6" stroke="#ececec" stroke-width="0.5"/>
<line x1="179.17" y1="19.2" x2="179.17" y2="83.6" stroke="#ececec" stroke-width="0.5"/>
<line x1="192.64" y1="19.2" x2="192.64" y2="83.6" stroke="#ececec" stroke-width="0.5"/>
<line x1="206.11" y1="19.2" x2="206.11" y2="83.6" stroke="#ececec" stroke-width="0.5"/>
<line x1="219.58" y1="19.2" x2="219.58" y2="83.6" stroke="#ececec" stroke-width="0.5"/>
<line x1="233.05" y1="19.2" x2="233.05" y2="83.6" stroke="#ececec" stroke-width="0.5"/>
<line x1="246.52" y1="19.2" x2="246.52" y2="83.6" stroke="#ececec" stroke-width="0.5"/>
<line x1="158.6" y1="26.4" x2="250.8" y2="26.4" stroke="#ececec" stroke-width="0.5"/>
<line x1="158.6" y1="34.1" x2="250.8" y2="34.1" stroke="#ececec" stroke-width="0.5"/>
<line x1="158.6" y1="41.8" x2="250.8" y2="41.8" stroke="#ececec" stroke-width="0.5"/>
<line x1="158.6" y1="49.5" x2="250.8" y2="49.5" stroke="#ececec" stroke-width="0.5"/>
<line x1="158.6" y1="57.2" x2="250.8" y2="57.2" stroke="#ececec" stroke-width="0.5"/>
<line x1="158.6" y1="64.9" x2="250.8" y2="64.9" stroke="#ececec" stroke-width="0.5"/>
<line x1="158.6" y1="72.6" x2="250.8" y2="72.6" stroke="#ececec" stroke-width="0.5"/>
<line x1="158.6" y1="80.3" x2="250.8" y2="80.3" stroke="#ececec" stroke-width="0.5"/>
<polygon points="159.2,36 159.7,36 160.2,36 160.7,36 161.2,36 161.7,36 162.2,36 162.7,36 163.2,36 163.7,36 164.2,36 164.7,36 165.2,35.6 165.7,34.6 166.2,33.6 166.7,32.6 167.2,31.6 167.7,30.6 168.2,29.6 168.7,28.6 169.2,27.6 169.7,26.6 170.2,26.06 170.7,26.22 171.2,26.37 171.7,26.52 172.2,26.68 172.7,26.83 173.2,26.98 173.7,27.14 174.2,27.29 174.7,27.45 175.2,27.6 175.7,27.75 176.2,27.91 176.7,28.19 177.2,28.66 177.7,29.13 178.2,29.6 178.7,30.07 179.2,30.54 179.7,31.01 180.2,31.48 180.7,31.95 181.2,32.42 181.7,32.89 182.2,33.36 182.7,33.84 183.2,34.31 183.7,34.78 184.2,35.25 184.7,35.72 185.2,36.03 185.7,36.09 186.2,36.16 186.7,36.23 187.2,36.29 187.7,36.36 188.2,36.43 188.7,36.49 189.2,36.56 189.7,36.63 190.2,36.69 190.7,36.76 191.2,36.83 191.7,36.89 192.2,36.96 192.7,37.03 193.2,37.09 193.7,37.16 194.2,37.23 194.7,37.29 195.2,37.36 195.7,37.43 196.2,37.49 196.7,37.56 197.2,37.63 197.7,37.69 198.2,37.76 198.7,37.83 199.2,37.89 199.7,37.96 200.2,38.04 200.7,38.14 201.2,38.24 201.7,38.34 202.2,38.44 202.7,38.54 203.2,38.64 203.7,38.74 204.2,38.84 204.7,38.94 205.2,39.04 205.7,39.14 206.2,39.24 206.7,39.34 207.2,39.44 207.7,39.54 208.2,39.64 208.7,39.74 209.2,39.84 209.7,39.94 210.2,40.04 210.7,40.14 211.2,40.24 211.7,40.34 212.2,40.44 212.7,40.54 213.2,40.64 213.7,40.74 214.2,40.84 214.7,40.94 215.2,41.04 215.7,41.14 216.2,41.24 216.7,41.34 217.2,41.44 217.7,41.54 218.2,41.64 218.7,41.74 219.2,41.84 219.7,41.94 220.2,42.04 220.7,42.14 221.2,42.24 221.7,42.34 222.2,42.44 222.7,42.54 223.2,42.64 223.7,42.74 224.2,42.84 224.7,42.94 225.2,43.04 225.7,43.14 226.2,43.24 226.7,43.34 227.2,43.44 227.7,43.54 228.2,43.64 228.7,43.74 229.2,43.84 229.7,43.94 230.2,44.04 230.7,44.14 231.2,44.24 231.7,44.34 232.2,44.44 232.7,44.54 233.2,44.64 233.7,44.74 234.2,44.84 234.7,44.94 235.2,45.04 235.7,45.14 236.2,45.24 236.7,45.34 237.2,45.44 237.7,45.54 238.2,45.64 238.7,45.74 239.2,45.84 239.7,45.94 240.2,45.96 240.7,45.87 241.2,45.77 241.7,45.68 242.2,45.58 242.7,45.49 243.2,45.39 243.7,45.3 244.2,45.2 244.7,45.1 245.2,45.01 245.7,44.91 246.2,44.82 246.7,44.72 247.2,44.63 247.7,44.53 248.2,44.44 248.7,44.34 249.2,44.25 249.7,44.15 250.2,44.06 250.2,61.06 249.7,61.15 249.2,61.25 248.7,61.34 248.2,61.44 247.7,61.53 247.2,61.63 246.7,61.72 246.2,61.82 245.7,61.91 245.2,62.01 244.7,62.1 244.2,62.2 243.7,62.3 243.2,62.39 242.7,62.49 242.2,62.58 241.7,62.68 241.2,62.77 240.7,62.87 240.2,62.96 239.7,62.94 239.2,62.84 238.7,62.74 238.2,62.64 237.7,62.54 237.2,62.44 236.7,62.34 236.2,62.24 235.7,62.14 235.2,62.04 234.7,61.94 234.2,61.84 233.7,61.74 233.2,61.64 232.7,61.54 232.2,61.44 231.7,61.34 231.2,61.24 230.7,61.14 230.2,61.04 229.7,60.94 229.2,60.84 228.7,60.74 228.2,60.64 227.7,60.54 227.2,60.44 226.7,60.34 226.2,60.24 225.7,60.14 225.2,60.04 224.7,59.94 224.2,59.84 223.7,59.74 223.2,59.64 222.7,59.54 222.2,59.44 221.7,59.34 221.2,59.24 220.7,59.14 220.2,59.04 219.7,58.94 219.2,58.84 218.7,58.74 218.2,58.64 217.7,58.54 217.2,58.44 216.7,58.34 216.2,58.24 215.7,58.14 215.2,58.04 214.7,57.94 214.2,57.84 213.7,57.74 213.2,57.64 212.7,57.54 212.2,57.44 211.7,57.34 211.2,57.24 210.7,57.14 210.2,57.04 209.7,56.94 209.2,56.84 208.7,56.74 208.2,56.64 207.7,56.54 207.2,56.44 206.7,56.34 206.2,56.24 205.7,56.14 205.2,56.04 204.7,55.94 204.2,55.84 203.7,55.74 203.2,55.64 202.7,55.54 202.2,55.44 201.7,55.34 201.2,55.24 200.7,55.14 200.2,55.04 199.7,54.96 199.2,54.89 198.7,54.83 198.2,54.76 197.7,54.69 197.2,54.63 196.7,54.56 196.2,54.49 195.7,54.43 195.2,54.36 194.7,54.29 194.2,54.23 193.7,54.16 193.2,54.09 192.7,54.03 192.2,53.96 191.7,53.89 191.2,53.83 190.7,53.76 190.2,53.69 189.7,53.63 189.2,53.56 188.7,53.49 188.2,53.43 187.7,53.36 187.2,53.29 186.7,53.23 186.2,53.16 185.7,53.09 185.2,53.03 184.7,52.72 184.2,52.25 183.7,51.78 183.2,51.31 182.7,50.84 182.2,50.36 181.7,49.89 181.2,49.42 180.7,48.95 180.2,48.48 179.7,48.01 179.2,47.54 178.7,47.07 178.2,46.6 177.7,46.13 177.2,45.66 176.7,45.19 176.2,44.91 175.7,44.75 175.2,44.6 174.7,44.45 174.2,44.29 173.7,44.14 173.2,43.98 172.7,43.83 172.2,43.68 171.7,43.52 171.2,43.37 170.7,43.22 170.2,43.06 169.7,43.6 169.2,44.6 168.7,45.6 168.2,46.6 167.7,47.6 167.2,48.6 166.7,49.6 166.2,50.6 165.7,51.6 165.2,52.6 164.7,53 164.2,53 163.7,53 163.2,53 162.7,53 162.2,53 161.7,53 161.2,53 160.7,53 160.2,53 159.7,53 159.2,53" fill="#eba3a3" opacity="0.5"/>
<polyline points="159.3,40.14 159.95,34.93 161.2,39.85 161.66,55.76 162.62,42.81 163.16,20.5 164.23,42.06 165.04,67.35 166.03,39.87 166.6,32.25 167.81,34.53 168.44,22.06 169.67,32.31 170.14,45.95 170.9,29.94 171.4,67.25 172.63,33.8 173.2,23.09 174.5,33.18 175.24,72.18 176.43,34.48 176.99,25.81 177.71,32.76 178.53,48 179.27,34.41 179.97,33.64 180.7,35.92 181.11,27.74 182.05,40.99 182.56,58.03 183.85,43.12 184.42,28.37 185.54,39.77 185.97,58.26 187.16,43.5 187.84,33.79 189.09,40.79 189.8,59.02 190.95,44.77 191.73,30.93 192.44,45.49 192.92,59.54 193.56,44.99 194.28,32.36 194.93,43.88 195.45,60.08 196.44,44.21 197,38.45 197.82,43.19 198.68,62.34 199.67,46.27 200.52,40.72 201.6,42.54 202.23,35.76 203.34,46.19 204.12,37.11 204.89,43.17 205.49,54.34 206.51,44 207.22,36.84 208.02,47.1 208.63,59.5 209.41,48.28 209.86,35.81 210.48,44.37 211.28,58.82 212.41,45.48 213.13,67.83 214,45.07 214.84,39.41 215.99,46.94 216.67,68.62 217.84,48.6 218.64,37.27 219.32,49.74 219.9,37.94 220.82,47.81 221.65,70.78 222.54,48.65 223.19,39.39 224.39,47.23 224.79,73.3 226.08,46.94 226.97,45.8 227.72,50.61 228.39,75.1 229.59,51.25 230.21,40.49 231.49,48.2 231.97,75.52 232.62,48.29 233.13,43.52 234.16,48.48 234.58,68 235.44,53.02 236.3,75.46 237.16,49.7 237.84,45.04 239.01,53.88 239.64,72.6 240.84,54.18 241.54,61.49 242.35,52.66 242.91,46.83 244.19,49.53 244.83,70.23 245.77,50.06 246.26,57.79 246.88,50.15 247.57,41.74 248.82,51.82 249.46,44.49" fill="none" stroke="#d02424" stroke-width="0.75" stroke-linejoin="round" />
<polyline points="159.3,43.49 160.2,40.73 161.1,39.65 162,41.83 162.9,43.09 163.8,41.68 164.7,41.32 165.6,41.59 166.5,37.31 167.4,34.76 168.3,35.86 169.2,33.75 170.1,34 171,31.89 171.9,34.02 172.8,30.45 173.7,30.77 174.6,33.91 175.5,32.32 176.4,31.86 177.3,32.89 178.2,34.97 179.1,35.63 180,37.61 180.9,40.08 181.8,38.32 182.7,38.26 183.6,41.07 184.5,39.04 185.4,41.48 186.3,41.26 187.2,41.73 188.1,40.17 189,42.8 189.9,43.27 190.8,44.02 191.7,45.18 192.6,42.29 193.5,43.91 194.4,42.96 195.3,41.95 196.2,45.44 197.1,44.84 198,45.95 198.9,45.46 199.8,46.06 200.7,42.28 201.6,41.9 202.5,42.99 203.4,44.24 204.3,45.8 205.2,44.73 206.1,45.29 207,46.7 207.9,43.43 208.8,46.65 209.7,43.68 210.6,44.86 211.5,47.41 212.4,47.4 213.3,46.19 214.2,45.81 215.1,48.66 216,46.07 216.9,45.04 217.8,46.3 218.7,45.35 219.6,49.47 220.5,46.21 221.4,50.65 222.3,47.02 223.2,47.67 224.1,49.25 225,48.04 225.9,48.58 226.8,47.38 227.7,48.99 228.6,47.35 229.5,48.52 230.4,52.13 231.3,49.16 232.2,49.29 233.1,51.52 234,52.71 234.9,49.96 235.8,50.54 236.7,52.41 237.6,52.98 238.5,52.27 239.4,50.27 240.3,50.35 241.2,53.06 242.1,52.63 243,53.41 243.9,52.66 244.8,50.69 245.7,49.08 246.6,52.7 247.5,51.55 248.4,50.78 249.3,51.14 250.2,49.48" fill="none" stroke="#c41e1e" stroke-width="1.0" stroke-linejoin="round" />
<rect x="168" y="27.1" width="1.3" height="1.3" fill="#1f77c0"/>
<rect x="175.9" y="25.7" width="1.3" height="1.3" fill="#1f77c0"/>
<rect x="160.8" y="44.4" width="1.3" height="1.3" fill="#1f77c0"/>
<rect x="166.2" y="38" width="1.3" height="1.3" fill="#1f77c0"/>
<rect x="248.9" y="49.9" width="1.3" height="1.3" fill="#1f77c0"/>
<rect x="245.4" y="52.4" width="1.3" height="1.3" fill="#1f77c0"/>
<rect x="184.4" y="39.4" width="1.3" height="1.3" fill="#1f77c0"/>
<rect x="219.4" y="44.4" width="1.3" height="1.3" fill="#1f77c0"/>
<rect x="229.4" y="47.4" width="1.3" height="1.3" fill="#1f77c0"/>
<rect x="204.4" y="43.4" width="1.3" height="1.3" fill="#1f77c0"/>
<rect x="158.6" y="19.2" width="92.2" height="64.4" fill="none" stroke="#a0a0a0" stroke-width="0.6"/>
<line x1="165.7" y1="83.6" x2="165.7" y2="82.6" stroke="#a0a0a0" stroke-width="0.5"/>
<text x="165.7" y="88.4" font-size="3.8" text-anchor="middle" fill="#3a3a3a" >1.26</text>
<line x1="179.17" y1="83.6" x2="179.17" y2="82.6" stroke="#a0a0a0" stroke-width="0.5"/>
<text x="179.17" y="88.4" font-size="3.8" text-anchor="middle" fill="#3a3a3a" >1.28</text>
<line x1="192.64" y1="83.6" x2="192.64" y2="82.6" stroke="#a0a0a0" stroke-width="0.5"/>
<text x="192.64" y="88.4" font-size="3.8" text-anchor="middle" fill="#3a3a3a" >1.3</text>
<line x1="206.11" y1="83.6" x2="206.11" y2="82.6" stroke="#a0a0a0" stroke-width="0.5"/>
<text x="206.11" y="88.4" font-size="3.8" text-anchor="middle" fill="#3a3a3a" >1.32</text>
<line x1="219.58" y1="83.6" x2="219.58" y2="82.6" stroke="#a0a0a0" stroke-width="0.5"/>
<text x="219.58" y="88.4" font-size="3.8" text-anchor="middle" fill="#3a3a3a" >1.34</text>
<line x1="233.05" y1="83.6" x2="233.05" y2="82.6" stroke="#a0a0a0" stroke-width="0.5"/>
<text x="233.05" y="88.4" font-size="3.8" text-anchor="middle" fill="#3a3a3a" >1.36</text>
<line x1="246.52" y1="83.6" x2="246.52" y2="82.6" stroke="#a0a0a0" stroke-width="0.5"/>
<text x="246.52" y="88.4" font-size="3.8" text-anchor="middle" fill="#3a3a3a" >1.38</text>
<line x1="158.6" y1="26.4" x2="159.6" y2="26.4" stroke="#a0a0a0" stroke-width="0.5"/>
<text x="156.6" y="27.65" font-size="3.8" text-anchor="end" fill="#3a3a3a" >3.74</text>
<line x1="158.6" y1="34.1" x2="159.6" y2="34.1" stroke="#a0a0a0" stroke-width="0.5"/>
<text x="156.6" y="35.35" font-size="3.8" text-anchor="end" fill="#3a3a3a" >3.73</text>
<line x1="158.6" y1="41.8" x2="159.6" y2="41.8" stroke="#a0a0a0" stroke-width="0.5"/>
<text x="156.6" y="43.05" font-size="3.8" text-anchor="end" fill="#3a3a3a" >3.72</text>
<line x1="158.6" y1="49.5" x2="159.6" y2="49.5" stroke="#a0a0a0" stroke-width="0.5"/>
<text x="156.6" y="50.75" font-size="3.8" text-anchor="end" fill="#3a3a3a" >3.71</text>
<line x1="158.6" y1="57.2" x2="159.6" y2="57.2" stroke="#a0a0a0" stroke-width="0.5"/>
<text x="156.6" y="58.45" font-size="3.8" text-anchor="end" fill="#3a3a3a" >3.7</text>
<line x1="158.6" y1="64.9" x2="159.6" y2="64.9" stroke="#a0a0a0" stroke-width="0.5"/>
<text x="156.6" y="66.15" font-size="3.8" text-anchor="end" fill="#3a3a3a" >3.69</text>
<line x1="158.6" y1="72.6" x2="159.6" y2="72.6" stroke="#a0a0a0" stroke-width="0.5"/>
<text x="156.6" y="73.85" font-size="3.8" text-anchor="end" fill="#3a3a3a" >3.68</text>
<line x1="158.6" y1="80.3" x2="159.6" y2="80.3" stroke="#a0a0a0" stroke-width="0.5"/>
<text x="156.6" y="81.55" font-size="3.8" text-anchor="end" fill="#3a3a3a" >3.67</text>
<text x="251" y="93.6" font-size="3.8" text-anchor="end" fill="#3a3a3a">×10<tspan font-size="2.66" dy="-1.60">4</tspan></text>
<rect x="124.4" y="93.5" width="21.4" height="29.7" fill="none" stroke="#1a1a1a" stroke-width="1.0"/>
<line x1="145.8" y1="93.5" x2="154.87" y2="86.55" stroke="#111" stroke-width="1.0"/>
<polygon points="158.2,84 156.02,88.06 153.71,85.05" fill="#111"/>
<rect x="440.6" y="9.9" width="95.2" height="73.5" fill="#fff"/>
<line x1="447.9" y1="9.9" x2="447.9" y2="83.4" stroke="#ececec" stroke-width="0.5"/>
<line x1="457.8" y1="9.9" x2="457.8" y2="83.4" stroke="#ececec" stroke-width="0.5"/>
<line x1="467.7" y1="9.9" x2="467.7" y2="83.4" stroke="#ececec" stroke-width="0.5"/>
<line x1="477.6" y1="9.9" x2="477.6" y2="83.4" stroke="#ececec" stroke-width="0.5"/>
<line x1="487.5" y1="9.9" x2="487.5" y2="83.4" stroke="#ececec" stroke-width="0.5"/>
<line x1="497.4" y1="9.9" x2="497.4" y2="83.4" stroke="#ececec" stroke-width="0.5"/>
<line x1="507.3" y1="9.9" x2="507.3" y2="83.4" stroke="#ececec" stroke-width="0.5"/>
<line x1="517.2" y1="9.9" x2="517.2" y2="83.4" stroke="#ececec" stroke-width="0.5"/>
<line x1="527.1" y1="9.9" x2="527.1" y2="83.4" stroke="#ececec" stroke-width="0.5"/>
<line x1="440.6" y1="22.9" x2="535.8" y2="22.9" stroke="#ececec" stroke-width="0.5"/>
<line x1="440.6" y1="35.7" x2="535.8" y2="35.7" stroke="#ececec" stroke-width="0.5"/>
<line x1="440.6" y1="48.5" x2="535.8" y2="48.5" stroke="#ececec" stroke-width="0.5"/>
<line x1="440.6" y1="61.3" x2="535.8" y2="61.3" stroke="#ececec" stroke-width="0.5"/>
<line x1="440.6" y1="74.1" x2="535.8" y2="74.1" stroke="#ececec" stroke-width="0.5"/>
<polyline points="440.8,21.56 441.8,21.84 442.8,22.12 443.8,22.4 444.8,22.68 445.8,22.96 446.8,23.24 447.8,23.56 448.8,23.88 449.8,24.2 450.8,24.52 451.8,24.84 452.8,25.16 453.8,25.48 454.8,25.8 455.8,26.12 456.8,26.44 457.8,26.77 458.8,27.09 459.8,27.41 460.8,27.73 461.8,28.05 462.8,28.37 463.8,28.69 464.8,29.01 465.8,29.34 466.8,29.72 467.8,30.1 468.8,30.48 469.8,30.86 470.8,31.24 471.8,31.62 472.8,32 473.8,32.38 474.8,32.76 475.8,33.14 476.8,33.52 477.8,33.9 478.8,34.28 479.8,34.66 480.8,35.04 481.8,35.42 482.8,35.78 483.8,36.13 484.8,36.48 485.8,36.82 486.8,37.17 487.8,37.52 488.8,37.87 489.8,38.22 490.8,38.57 491.8,38.91 492.8,39.26 493.8,39.61 494.8,39.96 495.8,40.31 496.8,40.66 497.8,41 498.8,41.35 499.8,41.7 500.8,41.97 501.8,42.24 502.8,42.51 503.8,42.78 504.8,43.05 505.8,43.32 506.8,43.58 507.8,43.85 508.8,44.12 509.8,44.39 510.8,44.66 511.8,44.93 512.8,45.2 513.8,45.47 514.8,45.74 515.8,46.01 516.8,46.28 517.8,46.55 518.8,46.85 519.8,47.17 520.8,47.49 521.8,47.81 522.8,48.13 523.8,48.45 524.8,48.76 525.8,49.08 526.8,49.4 527.8,49.72 528.8,50.04 529.8,50.35 530.8,50.67 531.8,50.99 532.8,51.31 533.8,51.63 534.8,51.95" fill="none" stroke="#1f77c0" stroke-width="1.0" stroke-linejoin="round" />
<polyline points="440.8,21.81 441.8,22.09 442.8,22.37 443.8,22.65 444.8,22.93 445.8,23.21 446.8,23.49 447.8,23.81 448.8,24.13 449.8,24.45 450.8,24.77 451.8,25.09 452.8,25.41 453.8,25.73 454.8,26.05 455.8,26.37 456.8,26.69 457.8,27.02 458.8,27.34 459.8,27.66 460.8,27.98 461.8,28.3 462.8,28.62 463.8,28.94 464.8,29.26 465.8,29.59 466.8,29.97 467.8,30.35 468.8,30.73 469.8,31.11 470.8,31.49 471.8,31.87 472.8,32.25 473.8,32.63 474.8,33.01 475.8,33.39 476.8,33.77 477.8,34.15 478.8,34.53 479.8,34.91 480.8,35.29 481.8,35.67 482.8,36.03 483.8,36.38 484.8,36.73 485.8,37.07 486.8,37.42 487.8,37.77 488.8,38.12 489.8,38.47 490.8,38.82 491.8,39.16 492.8,39.51 493.8,39.86 494.8,40.21 495.8,40.56 496.8,40.91 497.8,41.25 498.8,41.6 499.8,41.95 500.8,42.22 501.8,42.49 502.8,42.76 503.8,43.03 504.8,43.3 505.8,43.57 506.8,43.83 507.8,44.1 508.8,44.37 509.8,44.64 510.8,44.91 511.8,45.18 512.8,45.45 513.8,45.72 514.8,45.99 515.8,46.26 516.8,46.53 517.8,46.8 518.8,47.1 519.8,47.42 520.8,47.74 521.8,48.06 522.8,48.38 523.8,48.7 524.8,49.01 525.8,49.33 526.8,49.65 527.8,49.97 528.8,50.29 529.8,50.6 530.8,50.92 531.8,51.24 532.8,51.56 533.8,51.88 534.8,52.2" fill="none" stroke="#d62a2a" stroke-width="0.9" stroke-linejoin="round" />
<polygon points="442.3,22.09 443,53.5 443.9,47.5 445.3,38.09 445.1,14.5 443.7,24.09" fill="#eba3a3" opacity="0.85"/>
<polygon points="450,24.26 450.3,34.26 452.3,26" fill="#eba3a3" opacity="0.85"/>
<polygon points="452.5,25.06 452.8,35.06 454.8,26.8" fill="#eba3a3" opacity="0.85"/>
<polygon points="455,25.87 455.3,35.87 457.3,27.6" fill="#eba3a3" opacity="0.85"/>
<polygon points="457.5,26.67 457.8,36.67 459.8,28.41" fill="#eba3a3" opacity="0.85"/>
<polygon points="459.4,27.41 460.1,59.4 461,53.4 462.4,43.41 462.2,19.9 460.8,29.41" fill="#eba3a3" opacity="0.85"/>
<polygon points="467.1,29.83 467.4,39.83 469.4,31.71" fill="#eba3a3" opacity="0.85"/>
<polygon points="469.6,30.78 469.9,40.78 471.9,32.66" fill="#eba3a3" opacity="0.85"/>
<polygon points="472.1,31.73 472.4,41.73 474.4,33.61" fill="#eba3a3" opacity="0.85"/>
<polygon points="474.6,32.69 474.9,42.69 476.9,34.56" fill="#eba3a3" opacity="0.85"/>
<polygon points="477.2,33.83 477.9,65.3 478.8,59.3 480.2,49.83 480,26.4 478.6,35.83" fill="#eba3a3" opacity="0.85"/>
<polygon points="484.9,36.51 485.2,46.51 487.2,38.31" fill="#eba3a3" opacity="0.85"/>
<polygon points="487.4,37.38 487.7,47.38 489.7,39.18" fill="#eba3a3" opacity="0.85"/>
<polygon points="489.9,38.25 490.2,48.25 492.2,40.05" fill="#eba3a3" opacity="0.85"/>
<polygon points="492.4,39.12 492.7,49.12 494.7,40.92" fill="#eba3a3" opacity="0.85"/>
<polygon points="494.7,40.06 495.4,71.1 496.3,65.1 497.7,56.06 497.5,32.1 496.1,42.06" fill="#eba3a3" opacity="0.85"/>
<polygon points="502.4,42.4 502.7,52.4 504.7,44.02" fill="#eba3a3" opacity="0.85"/>
<polygon points="504.9,43.07 505.2,53.07 507.2,44.69" fill="#eba3a3" opacity="0.85"/>
<polygon points="507.4,43.75 507.7,53.75 509.7,45.37" fill="#eba3a3" opacity="0.85"/>
<polygon points="509.9,44.42 510.2,54.42 512.2,46.04" fill="#eba3a3" opacity="0.85"/>
<polygon points="512,45.09 512.7,77.4 513.6,71.4 515,61.09 514.8,37 513.4,47.09" fill="#eba3a3" opacity="0.85"/>
<polygon points="519.7,47.14 520,57.14 522,48.87" fill="#eba3a3" opacity="0.85"/>
<polygon points="522.2,47.94 522.5,57.94 524.5,49.67" fill="#eba3a3" opacity="0.85"/>
<polygon points="524.7,48.73 525,58.73 527,50.46" fill="#eba3a3" opacity="0.85"/>
<polygon points="527.2,49.53 527.5,59.53 529.5,51.26" fill="#eba3a3" opacity="0.85"/>
<polygon points="530,50.55 530.7,82.3 531.6,76.3 533,66.55 532.8,42.6 531.4,52.55" fill="#eba3a3" opacity="0.85"/>
<polyline points="440.7,21.53 442.2,22.09 442.7,53.5 443.1,28.09 445,20.09 445.3,11.5 445.6,35.09 446,31.09 447.2,23.36 449.8,24.26 450.15,34.26 452.3,25.5 452.3,25.06 452.65,35.06 454.8,26.3 454.8,25.87 455.15,35.87 457.3,27.1 457.3,26.67 457.65,36.67 459.8,27.91 458.8,27.09 459.3,27.41 459.8,59.4 460.2,33.41 462.1,25.41 462.4,16.9 462.7,40.41 463.1,36.41 464.3,28.85 466.9,29.83 467.25,39.83 469.4,31.21 469.4,30.78 469.75,40.78 471.9,32.16 471.9,31.73 472.25,41.73 474.4,33.11 474.4,32.69 474.75,42.69 476.9,34.06 476.6,33.45 477.1,33.83 477.6,65.3 478,39.83 479.9,31.83 480.2,23.4 480.5,46.83 480.9,42.83 482.1,35.53 484.7,36.51 485.05,46.51 487.2,37.81 487.2,37.38 487.55,47.38 489.7,38.68 489.7,38.25 490.05,48.25 492.2,39.55 492.2,39.12 492.55,49.12 494.7,40.42 494.1,39.71 494.6,40.06 495.1,71.1 495.5,46.06 497.4,38.06 497.7,29.1 498,53.06 498.4,49.06 499.6,41.63 502.2,42.4 502.55,52.4 504.7,43.52 504.7,43.07 505.05,53.07 507.2,44.19 507.2,43.75 507.55,53.75 509.7,44.87 509.7,44.42 510.05,54.42 512.2,45.54 511.4,44.82 511.9,45.09 512.4,77.4 512.8,51.09 514.7,43.09 515,34 515.3,58.09 515.7,54.09 516.9,46.3 519.5,47.14 519.85,57.14 522,48.37 522,47.94 522.35,57.94 524.5,49.17 524.5,48.73 524.85,58.73 527,49.96 527,49.53 527.35,59.53 529.5,50.76 529.4,50.23 529.9,50.55 530.4,82.3 530.8,56.55 532.7,48.55 533,39.6 533.3,63.55 533.7,59.55 534.9,51.98" fill="none" stroke="#d62a2a" stroke-width="0.85" stroke-linejoin="round" />
<rect x="444.7" y="11.1" width="1.2" height="1.2" fill="#1f77c0"/>
<rect x="443.3" y="21.49" width="1.1" height="1.1" fill="#1f77c0"/>
<rect x="461.8" y="16.5" width="1.2" height="1.2" fill="#1f77c0"/>
<rect x="460.4" y="26.81" width="1.1" height="1.1" fill="#1f77c0"/>
<rect x="479.6" y="23" width="1.2" height="1.2" fill="#1f77c0"/>
<rect x="478.2" y="33.23" width="1.1" height="1.1" fill="#1f77c0"/>
<rect x="497.1" y="28.7" width="1.2" height="1.2" fill="#1f77c0"/>
<rect x="495.7" y="39.46" width="1.1" height="1.1" fill="#1f77c0"/>
<rect x="514.4" y="33.6" width="1.2" height="1.2" fill="#1f77c0"/>
<rect x="513" y="44.49" width="1.1" height="1.1" fill="#1f77c0"/>
<rect x="532.4" y="39.2" width="1.2" height="1.2" fill="#1f77c0"/>
<rect x="531" y="49.95" width="1.1" height="1.1" fill="#1f77c0"/>
<rect x="440.6" y="9.9" width="95.2" height="73.5" fill="none" stroke="#a0a0a0" stroke-width="0.6"/>
<line x1="447.9" y1="83.4" x2="447.9" y2="82.4" stroke="#a0a0a0" stroke-width="0.5"/>
<text x="447.9" y="89.2" font-size="3.8" text-anchor="middle" fill="#3a3a3a" >1.08</text>
<line x1="457.8" y1="83.4" x2="457.8" y2="82.4" stroke="#a0a0a0" stroke-width="0.5"/>
<text x="457.8" y="89.2" font-size="3.8" text-anchor="middle" fill="#3a3a3a" >1.1</text>
<line x1="467.7" y1="83.4" x2="467.7" y2="82.4" stroke="#a0a0a0" stroke-width="0.5"/>
<text x="467.7" y="89.2" font-size="3.8" text-anchor="middle" fill="#3a3a3a" >1.12</text>
<line x1="477.6" y1="83.4" x2="477.6" y2="82.4" stroke="#a0a0a0" stroke-width="0.5"/>
<text x="477.6" y="89.2" font-size="3.8" text-anchor="middle" fill="#3a3a3a" >1.14</text>
<line x1="487.5" y1="83.4" x2="487.5" y2="82.4" stroke="#a0a0a0" stroke-width="0.5"/>
<text x="487.5" y="89.2" font-size="3.8" text-anchor="middle" fill="#3a3a3a" >1.16</text>
<line x1="497.4" y1="83.4" x2="497.4" y2="82.4" stroke="#a0a0a0" stroke-width="0.5"/>
<text x="497.4" y="89.2" font-size="3.8" text-anchor="middle" fill="#3a3a3a" >1.18</text>
<line x1="507.3" y1="83.4" x2="507.3" y2="82.4" stroke="#a0a0a0" stroke-width="0.5"/>
<text x="507.3" y="89.2" font-size="3.8" text-anchor="middle" fill="#3a3a3a" >1.2</text>
<line x1="517.2" y1="83.4" x2="517.2" y2="82.4" stroke="#a0a0a0" stroke-width="0.5"/>
<text x="517.2" y="89.2" font-size="3.8" text-anchor="middle" fill="#3a3a3a" >1.22</text>
<line x1="527.1" y1="83.4" x2="527.1" y2="82.4" stroke="#a0a0a0" stroke-width="0.5"/>
<text x="527.1" y="89.2" font-size="3.8" text-anchor="middle" fill="#3a3a3a" >1.24</text>
<line x1="440.6" y1="22.9" x2="441.6" y2="22.9" stroke="#a0a0a0" stroke-width="0.5"/>
<text x="438.8" y="24.15" font-size="3.8" text-anchor="end" fill="#3a3a3a" >3.78</text>
<line x1="440.6" y1="35.7" x2="441.6" y2="35.7" stroke="#a0a0a0" stroke-width="0.5"/>
<text x="438.8" y="36.95" font-size="3.8" text-anchor="end" fill="#3a3a3a" >3.76</text>
<line x1="440.6" y1="48.5" x2="441.6" y2="48.5" stroke="#a0a0a0" stroke-width="0.5"/>
<text x="438.8" y="49.75" font-size="3.8" text-anchor="end" fill="#3a3a3a" >3.74</text>
<line x1="440.6" y1="61.3" x2="441.6" y2="61.3" stroke="#a0a0a0" stroke-width="0.5"/>
<text x="438.8" y="62.55" font-size="3.8" text-anchor="end" fill="#3a3a3a" >3.72</text>
<line x1="440.6" y1="74.1" x2="441.6" y2="74.1" stroke="#a0a0a0" stroke-width="0.5"/>
<text x="438.8" y="75.35" font-size="3.8" text-anchor="end" fill="#3a3a3a" >3.7</text>
<text x="536" y="95.2" font-size="3.8" text-anchor="end" fill="#3a3a3a">×10<tspan font-size="2.66" dy="-1.60">4</tspan></text>
<rect x="407.4" y="93.6" width="19.8" height="29.6" fill="none" stroke="#1a1a1a" stroke-width="1.0"/>
<line x1="427.2" y1="93.6" x2="436.85" y2="86.33" stroke="#111" stroke-width="1.0"/>
<polygon points="440.2,83.8 437.99,87.85 435.7,84.81" fill="#111"/>
<rect x="164" y="246" width="84.4" height="63.4" fill="#fff"/>
<line x1="167.2" y1="246" x2="167.2" y2="309.4" stroke="#ececec" stroke-width="0.5"/>
<line x1="177.6" y1="246" x2="177.6" y2="309.4" stroke="#ececec" stroke-width="0.5"/>
<line x1="188" y1="246" x2="188" y2="309.4" stroke="#ececec" stroke-width="0.5"/>
<line x1="198.4" y1="246" x2="198.4" y2="309.4" stroke="#ececec" stroke-width="0.5"/>
<line x1="208.8" y1="246" x2="208.8" y2="309.4" stroke="#ececec" stroke-width="0.5"/>
<line x1="219.2" y1="246" x2="219.2" y2="309.4" stroke="#ececec" stroke-width="0.5"/>
<line x1="229.6" y1="246" x2="229.6" y2="309.4" stroke="#ececec" stroke-width="0.5"/>
<line x1="240" y1="246" x2="240" y2="309.4" stroke="#ececec" stroke-width="0.5"/>
<line x1="164" y1="247.8" x2="248.4" y2="247.8" stroke="#ececec" stroke-width="0.5"/>
<line x1="164" y1="256.4" x2="248.4" y2="256.4" stroke="#ececec" stroke-width="0.5"/>
<line x1="164" y1="265" x2="248.4" y2="265" stroke="#ececec" stroke-width="0.5"/>
<line x1="164" y1="273.6" x2="248.4" y2="273.6" stroke="#ececec" stroke-width="0.5"/>
<line x1="164" y1="282.2" x2="248.4" y2="282.2" stroke="#ececec" stroke-width="0.5"/>
<line x1="164" y1="290.8" x2="248.4" y2="290.8" stroke="#ececec" stroke-width="0.5"/>
<line x1="164" y1="299.4" x2="248.4" y2="299.4" stroke="#ececec" stroke-width="0.5"/>
<line x1="164" y1="308" x2="248.4" y2="308" stroke="#ececec" stroke-width="0.5"/>
<polygon points="167.2,249.2 185.2,252.6 185.2,258.76 167.2,255.36" fill="#eba3a3" opacity="0.8"/>
<polygon points="191.6,258.8 211,262.2 211,269.2 191.6,265.8" fill="#eba3a3" opacity="0.8"/>
<polygon points="216,269 234.5,272 234.5,278.16 216,275.16" fill="#eba3a3" opacity="0.8"/>
<polygon points="240.6,276.8 248.2,278.6 248.2,285.25 240.6,283.45" fill="#eba3a3" opacity="0.8"/>
<polyline points="164.3,252 165.2,262 166.4,278.5 166.9,262 167.2,249 167.2,249.2 167.6,258 169.1,250.2 170.1,249.75 170.5,258.55 172,250.75 173,250.3 173.4,259.1 174.9,251.3 175.9,250.84 176.3,259.64 177.8,251.84 178.8,251.39 179.2,260.19 180.7,252.39 181.7,251.94 182.1,260.74 183.6,252.94 185.2,252.6 186.7,257.6 189.4,262.6 190.7,288.5 191.3,258.6 191.7,258.8 191.6,258.8 192,268.8 193.5,259.8 194.5,259.31 194.9,269.31 196.4,260.31 197.4,259.82 197.8,269.82 199.3,260.82 200.3,260.32 200.7,270.32 202.2,261.32 203.2,260.83 203.6,270.83 205.1,261.83 206.1,261.34 206.5,271.34 208,262.34 209,261.85 209.4,271.85 210.9,262.85 211,262.2 212.5,267.2 214.1,272.2 215.4,298.2 216,268.2 216.4,269 216,269 216.4,277.8 217.9,270 218.9,269.47 219.3,278.27 220.8,270.47 221.8,269.94 222.2,278.74 223.7,270.94 224.7,270.41 225.1,279.21 226.6,271.41 227.6,270.88 228,279.68 229.5,271.88 230.5,271.35 230.9,280.15 232.4,272.35 233.4,271.82 233.8,280.62 235.3,272.82 234.5,272 236,277 238.6,282 239.9,306.6 240.5,278 240.9,276.8 240.6,276.8 241,286.3 242.5,277.8 243.5,277.49 243.9,286.99 245.4,278.49 246.4,278.17 246.8,287.67 248.2,279.17" fill="none" stroke="#d62a2a" stroke-width="0.8" stroke-linejoin="round" />
<rect x="166.9" y="247" width="1.3" height="1.3" fill="#1f77c0"/>
<rect x="191.4" y="256.2" width="1.3" height="1.3" fill="#1f77c0"/>
<rect x="215.9" y="267" width="1.3" height="1.3" fill="#1f77c0"/>
<rect x="240.4" y="274.8" width="1.3" height="1.3" fill="#1f77c0"/>
<rect x="246.6" y="276.7" width="1.3" height="1.3" fill="#1f77c0"/>
<rect x="164" y="246" width="84.4" height="63.4" fill="none" stroke="#a0a0a0" stroke-width="0.6"/>
<line x1="167.2" y1="309.4" x2="167.2" y2="308.4" stroke="#a0a0a0" stroke-width="0.5"/>
<text x="167.2" y="314.3" font-size="3.8" text-anchor="middle" fill="#3a3a3a" >1.3</text>
<line x1="177.6" y1="309.4" x2="177.6" y2="308.4" stroke="#a0a0a0" stroke-width="0.5"/>
<text x="177.6" y="314.3" font-size="3.8" text-anchor="middle" fill="#3a3a3a" >1.35</text>
<line x1="188" y1="309.4" x2="188" y2="308.4" stroke="#a0a0a0" stroke-width="0.5"/>
<text x="188" y="314.3" font-size="3.8" text-anchor="middle" fill="#3a3a3a" >1.4</text>
<line x1="198.4" y1="309.4" x2="198.4" y2="308.4" stroke="#a0a0a0" stroke-width="0.5"/>
<text x="198.4" y="314.3" font-size="3.8" text-anchor="middle" fill="#3a3a3a" >1.45</text>
<line x1="208.8" y1="309.4" x2="208.8" y2="308.4" stroke="#a0a0a0" stroke-width="0.5"/>
<text x="208.8" y="314.3" font-size="3.8" text-anchor="middle" fill="#3a3a3a" >1.5</text>
<line x1="219.2" y1="309.4" x2="219.2" y2="308.4" stroke="#a0a0a0" stroke-width="0.5"/>
<text x="219.2" y="314.3" font-size="3.8" text-anchor="middle" fill="#3a3a3a" >1.55</text>
<line x1="229.6" y1="309.4" x2="229.6" y2="308.4" stroke="#a0a0a0" stroke-width="0.5"/>
<text x="229.6" y="314.3" font-size="3.8" text-anchor="middle" fill="#3a3a3a" >1.6</text>
<line x1="240" y1="309.4" x2="240" y2="308.4" stroke="#a0a0a0" stroke-width="0.5"/>
<text x="240" y="314.3" font-size="3.8" text-anchor="middle" fill="#3a3a3a" >1.65</text>
<line x1="164" y1="247.8" x2="165" y2="247.8" stroke="#a0a0a0" stroke-width="0.5"/>
<text x="162.4" y="249.05" font-size="3.8" text-anchor="end" fill="#3a3a3a" >3.78</text>
<line x1="164" y1="256.4" x2="165" y2="256.4" stroke="#a0a0a0" stroke-width="0.5"/>
<text x="162.4" y="257.65" font-size="3.8" text-anchor="end" fill="#3a3a3a" >3.76</text>
<line x1="164" y1="265" x2="165" y2="265" stroke="#a0a0a0" stroke-width="0.5"/>
<text x="162.4" y="266.25" font-size="3.8" text-anchor="end" fill="#3a3a3a" >3.74</text>
<line x1="164" y1="273.6" x2="165" y2="273.6" stroke="#a0a0a0" stroke-width="0.5"/>
<text x="162.4" y="274.85" font-size="3.8" text-anchor="end" fill="#3a3a3a" >3.72</text>
<line x1="164" y1="282.2" x2="165" y2="282.2" stroke="#a0a0a0" stroke-width="0.5"/>
<text x="162.4" y="283.45" font-size="3.8" text-anchor="end" fill="#3a3a3a" >3.7</text>
<line x1="164" y1="290.8" x2="165" y2="290.8" stroke="#a0a0a0" stroke-width="0.5"/>
<text x="162.4" y="292.05" font-size="3.8" text-anchor="end" fill="#3a3a3a" >3.68</text>
<line x1="164" y1="299.4" x2="165" y2="299.4" stroke="#a0a0a0" stroke-width="0.5"/>
<text x="162.4" y="300.65" font-size="3.8" text-anchor="end" fill="#3a3a3a" >3.66</text>
<line x1="164" y1="308" x2="165" y2="308" stroke="#a0a0a0" stroke-width="0.5"/>
<text x="162.4" y="309.25" font-size="3.8" text-anchor="end" fill="#3a3a3a" >3.64</text>
<text x="246.8" y="318.6" font-size="3.8" text-anchor="end" fill="#3a3a3a">×10<tspan font-size="2.66" dy="-1.60">4</tspan></text>
<rect x="120.5" y="304.6" width="17.1" height="28.7" fill="none" stroke="#1a1a1a" stroke-width="1.0"/>
<line x1="137.6" y1="310.9" x2="150.87" y2="308.54" stroke="#111" stroke-width="1.0"/>
<polygon points="155,307.8 151.2,310.41 150.53,306.67" fill="#111"/>
</svg></body></html>
